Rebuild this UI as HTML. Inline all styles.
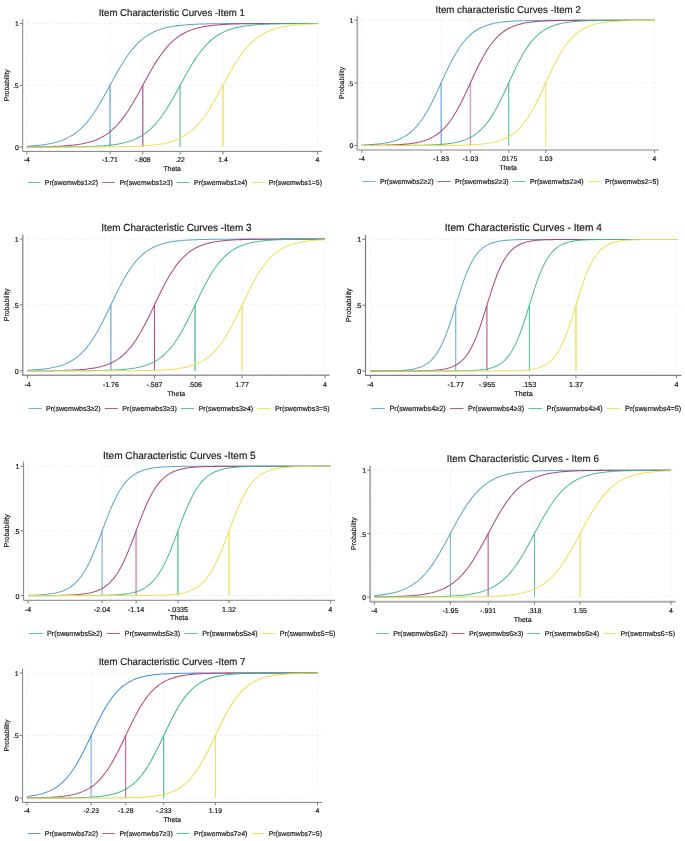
<!DOCTYPE html>
<html><head><meta charset="utf-8"><title>Item Characteristic Curves</title>
<style>
html,body{margin:0;padding:0;background:#fff}
svg{display:block;filter:blur(.3px)}
text{font-family:"Liberation Sans",Arial,sans-serif;fill:#161616;stroke:#161616;stroke-width:.18;text-rendering:geometricPrecision}
.tt{text-anchor:middle;fill:#1c1c1c}

.gr{stroke:#f0f0f0;stroke-width:.8;stroke-dasharray:4 1.8;fill:none}
.ax{stroke:#787878;stroke-width:.95;fill:none}
.cv{fill:none;stroke-width:1.05;stroke-linejoin:round;stroke-opacity:.92}
</style></head><body>
<svg width="685" height="841" viewBox="0 0 685 841">
<rect width="685" height="841" fill="#fff"/>
<g class="p1">
<line class="gr" x1="26.9" x2="321.9" y1="147" y2="147"/>
<line class="gr" x1="26.9" x2="321.9" y1="85.25" y2="85.25"/>
<line class="gr" x1="26.9" x2="321.9" y1="23.5" y2="23.5"/>
<line class="gr" x1="26.9" x2="26.9" y1="20" y2="147"/>
<line class="gr" x1="110.06" x2="110.06" y1="20" y2="147"/>
<line class="gr" x1="142.81" x2="142.81" y1="20" y2="147"/>
<line class="gr" x1="180.14" x2="180.14" y1="20" y2="147"/>
<line class="gr" x1="222.99" x2="222.99" y1="20" y2="147"/>
<line class="gr" x1="317.4" x2="317.4" y1="20" y2="147"/>
<path class="ax" d="M22.7 19V151.4H321.9"/>
<path class="ax" d="M22.7 147h-3M22.7 85.25h-3M22.7 23.5h-3M26.9 151.4v3M110.06 151.4v3M142.81 151.4v3M180.14 151.4v3M222.99 151.4v3M317.4 151.4v3"/>
<line x1="110.06" x2="110.06" y1="85.25" y2="147" stroke="#86bfdf" stroke-width="1.7"/>
<line x1="142.81" x2="142.81" y1="85.25" y2="147" stroke="#9c4e7c" stroke-width="1.1"/>
<line x1="180.14" x2="180.14" y1="85.25" y2="147" stroke="#8fd3c0" stroke-width="1.7"/>
<line x1="222.99" x2="222.99" y1="85.25" y2="147" stroke="#f2e77c" stroke-width="1.7"/>
<polyline class="cv" points="26.9,146.15 28.72,146.05 30.53,145.94 32.35,145.82 34.16,145.69 35.98,145.54 37.79,145.38 39.61,145.19 41.42,144.99 43.24,144.76 45.06,144.51 46.87,144.23 48.69,143.92 50.5,143.58 52.32,143.2 54.13,142.78 55.95,142.32 57.77,141.8 59.58,141.23 61.4,140.61 63.21,139.92 65.03,139.16 66.84,138.32 68.66,137.4 70.48,136.4 72.29,135.3 74.11,134.1 75.92,132.79 77.74,131.36 79.55,129.82 81.37,128.15 83.18,126.35 85,124.42 86.82,122.35 88.63,120.14 90.45,117.79 92.26,115.3 94.08,112.68 95.89,109.92 97.71,107.05 99.53,104.06 101.34,100.98 103.16,97.8 104.97,94.56 106.79,91.26 108.6,87.93 110.42,84.58 112.23,81.24 114.05,77.91 115.87,74.64 117.68,71.42 119.5,68.28 121.31,65.23 123.13,62.29 124.94,59.46 126.76,56.76 128.57,54.19 130.39,51.75 132.21,49.46 134.02,47.31 135.84,45.29 137.65,43.41 139.47,41.66 141.28,40.05 143.1,38.55 144.92,37.18 146.73,35.91 148.55,34.75 150.36,33.69 152.18,32.72 153.99,31.84 155.81,31.03 157.62,30.3 159.44,29.64 161.26,29.03 163.07,28.49 164.89,27.99 166.7,27.55 168.52,27.14 170.33,26.78 172.15,26.45 173.97,26.15 175.78,25.88 177.6,25.64 179.41,25.43 181.23,25.23 183.04,25.06 184.86,24.9 186.68,24.76 188.49,24.63 190.31,24.51 192.12,24.41 193.94,24.32 195.75,24.23 197.57,24.16 199.38,24.09 201.2,24.03 203.02,23.98 204.83,23.93 206.65,23.88 208.46,23.84 210.28,23.81 212.09,23.78 213.91,23.75 215.73,23.72 217.54,23.7 219.36,23.68 221.17,23.66 222.99,23.64 224.8,23.63 226.62,23.62 228.43,23.6 230.25,23.59 232.07,23.58 233.88,23.58 235.7,23.57 237.51,23.56 239.33,23.55 241.14,23.55 242.96,23.54 244.78,23.54 246.59,23.54 248.41,23.53 250.22,23.53 252.04,23.53 253.85,23.52 255.67,23.52 257.48,23.52 259.3,23.52 261.12,23.51 262.93,23.51 264.75,23.51 266.56,23.51 268.38,23.51 270.19,23.51 272.01,23.51 273.82,23.51 275.64,23.51 277.46,23.51 279.27,23.51 281.09,23.5 282.9,23.5 284.72,23.5 286.53,23.5 288.35,23.5 290.17,23.5 291.98,23.5 293.8,23.5 295.61,23.5 297.43,23.5 299.24,23.5 301.06,23.5 302.87,23.5 304.69,23.5 306.51,23.5 308.32,23.5 310.14,23.5 311.95,23.5 313.77,23.5 315.58,23.5 317.4,23.5" stroke="#51a0ce"/>
<polyline class="cv" points="26.9,146.88 28.72,146.87 30.53,146.85 32.35,146.83 34.16,146.81 35.98,146.79 37.79,146.77 39.61,146.74 41.42,146.71 43.24,146.68 45.06,146.64 46.87,146.6 48.69,146.56 50.5,146.51 52.32,146.45 54.13,146.39 55.95,146.32 57.77,146.24 59.58,146.15 61.4,146.06 63.21,145.95 65.03,145.83 66.84,145.7 68.66,145.55 70.48,145.38 72.29,145.2 74.11,145 75.92,144.77 77.74,144.52 79.55,144.24 81.37,143.94 83.18,143.6 85,143.22 86.82,142.8 88.63,142.33 90.45,141.82 92.26,141.26 94.08,140.63 95.89,139.94 97.71,139.19 99.53,138.35 101.34,137.44 103.16,136.44 104.97,135.34 106.79,134.15 108.6,132.84 110.42,131.42 112.23,129.89 114.05,128.22 115.87,126.43 117.68,124.5 119.5,122.43 121.31,120.23 123.13,117.89 124.94,115.4 126.76,112.78 128.57,110.04 130.39,107.17 132.21,104.18 134.02,101.1 135.84,97.93 137.65,94.69 139.47,91.39 141.28,88.06 143.1,84.71 144.92,81.37 146.73,78.05 148.55,74.77 150.36,71.55 152.18,68.4 153.99,65.35 155.81,62.4 157.62,59.57 159.44,56.86 161.26,54.29 163.07,51.85 164.89,49.55 166.7,47.39 168.52,45.37 170.33,43.48 172.15,41.73 173.97,40.11 175.78,38.61 177.6,37.23 179.41,35.96 181.23,34.8 183.04,33.73 184.86,32.76 186.68,31.87 188.49,31.06 190.31,30.33 192.12,29.66 193.94,29.06 195.75,28.51 197.57,28.01 199.38,27.56 201.2,27.16 203.02,26.79 204.83,26.46 206.65,26.16 208.46,25.89 210.28,25.65 212.09,25.43 213.91,25.24 215.73,25.06 217.54,24.9 219.36,24.76 221.17,24.63 222.99,24.52 224.8,24.41 226.62,24.32 228.43,24.24 230.25,24.16 232.07,24.09 233.88,24.03 235.7,23.98 237.51,23.93 239.33,23.88 241.14,23.85 242.96,23.81 244.78,23.78 246.59,23.75 248.41,23.72 250.22,23.7 252.04,23.68 253.85,23.66 255.67,23.65 257.48,23.63 259.3,23.62 261.12,23.6 262.93,23.59 264.75,23.58 266.56,23.58 268.38,23.57 270.19,23.56 272.01,23.55 273.82,23.55 275.64,23.54 277.46,23.54 279.27,23.54 281.09,23.53 282.9,23.53 284.72,23.53 286.53,23.52 288.35,23.52 290.17,23.52 291.98,23.52 293.8,23.51 295.61,23.51 297.43,23.51 299.24,23.51 301.06,23.51 302.87,23.51 304.69,23.51 306.51,23.51 308.32,23.51 310.14,23.51 311.95,23.51 313.77,23.5 315.58,23.5 317.4,23.5" stroke="#a73c73"/>
<polyline class="cv" points="26.9,146.99 28.72,146.99 30.53,146.98 32.35,146.98 34.16,146.98 35.98,146.98 37.79,146.98 39.61,146.97 41.42,146.97 43.24,146.97 45.06,146.96 46.87,146.96 48.69,146.95 50.5,146.95 52.32,146.94 54.13,146.93 55.95,146.93 57.77,146.92 59.58,146.91 61.4,146.9 63.21,146.89 65.03,146.87 66.84,146.86 68.66,146.84 70.48,146.82 72.29,146.8 74.11,146.78 75.92,146.76 77.74,146.73 79.55,146.7 81.37,146.66 83.18,146.62 85,146.58 86.82,146.53 88.63,146.48 90.45,146.42 92.26,146.36 94.08,146.28 95.89,146.2 97.71,146.11 99.53,146.01 101.34,145.9 103.16,145.77 104.97,145.63 106.79,145.48 108.6,145.31 110.42,145.11 112.23,144.9 114.05,144.67 115.87,144.4 117.68,144.11 119.5,143.79 121.31,143.43 123.13,143.04 124.94,142.6 126.76,142.12 128.57,141.58 130.39,140.99 132.21,140.34 134.02,139.62 135.84,138.83 137.65,137.96 139.47,137.01 141.28,135.97 143.1,134.83 144.92,133.59 146.73,132.23 148.55,130.76 150.36,129.17 152.18,127.45 153.99,125.6 155.81,123.61 157.62,121.48 159.44,119.22 161.26,116.81 163.07,114.27 164.89,111.59 166.7,108.79 168.52,105.87 170.33,102.84 172.15,99.72 173.97,96.51 175.78,93.24 177.6,89.93 179.41,86.59 181.23,83.24 183.04,79.9 184.86,76.6 186.68,73.34 188.49,70.15 190.31,67.05 192.12,64.04 193.94,61.14 195.75,58.36 197.57,55.71 199.38,53.2 201.2,50.82 203.02,48.58 204.83,46.48 206.65,44.52 208.46,42.7 210.28,41 212.09,39.43 213.91,37.99 215.73,36.66 217.54,35.44 219.36,34.32 221.17,33.29 222.99,32.36 224.8,31.51 226.62,30.73 228.43,30.03 230.25,29.39 232.07,28.81 233.88,28.28 235.7,27.81 237.51,27.38 239.33,26.99 241.14,26.64 242.96,26.33 244.78,26.04 246.59,25.79 248.41,25.55 250.22,25.35 252.04,25.16 253.85,24.99 255.67,24.84 257.48,24.7 259.3,24.58 261.12,24.47 262.93,24.37 264.75,24.28 266.56,24.2 268.38,24.13 270.19,24.07 272.01,24.01 273.82,23.96 275.64,23.91 277.46,23.87 279.27,23.83 281.09,23.8 282.9,23.77 284.72,23.74 286.53,23.71 288.35,23.69 290.17,23.67 291.98,23.65 293.8,23.64 295.61,23.62 297.43,23.61 299.24,23.6 301.06,23.59 302.87,23.58 304.69,23.57 306.51,23.56 308.32,23.56 310.14,23.55 311.95,23.55 313.77,23.54 315.58,23.54 317.4,23.53" stroke="#40b590"/>
<polyline class="cv" points="26.9,147 28.72,147 30.53,147 32.35,147 34.16,147 35.98,147 37.79,147 39.61,147 41.42,147 43.24,147 45.06,147 46.87,147 48.69,147 50.5,147 52.32,147 54.13,146.99 55.95,146.99 57.77,146.99 59.58,146.99 61.4,146.99 63.21,146.99 65.03,146.99 66.84,146.99 68.66,146.99 70.48,146.99 72.29,146.98 74.11,146.98 75.92,146.98 77.74,146.98 79.55,146.98 81.37,146.97 83.18,146.97 85,146.97 86.82,146.96 88.63,146.96 90.45,146.96 92.26,146.95 94.08,146.94 95.89,146.94 97.71,146.93 99.53,146.92 101.34,146.91 103.16,146.9 104.97,146.89 106.79,146.88 108.6,146.87 110.42,146.85 112.23,146.84 114.05,146.82 115.87,146.8 117.68,146.77 119.5,146.75 121.31,146.72 123.13,146.68 124.94,146.65 126.76,146.61 128.57,146.56 130.39,146.51 132.21,146.46 134.02,146.4 135.84,146.33 137.65,146.25 139.47,146.17 141.28,146.07 143.1,145.97 144.92,145.85 146.73,145.72 148.55,145.57 150.36,145.41 152.18,145.23 153.99,145.03 155.81,144.81 157.62,144.56 159.44,144.29 161.26,143.99 163.07,143.65 164.89,143.28 166.7,142.87 168.52,142.41 170.33,141.91 172.15,141.35 173.97,140.74 175.78,140.06 177.6,139.31 179.41,138.49 181.23,137.59 183.04,136.61 184.86,135.52 186.68,134.34 188.49,133.06 190.31,131.66 192.12,130.14 193.94,128.5 195.75,126.72 197.57,124.82 199.38,122.77 201.2,120.59 203.02,118.27 204.83,115.81 206.65,113.21 208.46,110.48 210.28,107.63 212.09,104.67 213.91,101.6 215.73,98.44 217.54,95.21 219.36,91.92 221.17,88.6 222.99,85.25 224.8,81.9 226.62,78.58 228.43,75.29 230.25,72.06 232.07,68.9 233.88,65.83 235.7,62.87 237.51,60.02 239.33,57.29 241.14,54.69 242.96,52.23 244.78,49.91 246.59,47.73 248.41,45.68 250.22,43.78 252.04,42 253.85,40.36 255.67,38.84 257.48,37.44 259.3,36.16 261.12,34.98 262.93,33.89 264.75,32.91 266.56,32.01 268.38,31.19 270.19,30.44 272.01,29.76 273.82,29.15 275.64,28.59 277.46,28.09 279.27,27.63 281.09,27.22 282.9,26.85 284.72,26.51 286.53,26.21 288.35,25.94 290.17,25.69 291.98,25.47 293.8,25.27 295.61,25.09 297.43,24.93 299.24,24.78 301.06,24.65 302.87,24.53 304.69,24.43 306.51,24.33 308.32,24.25 310.14,24.17 311.95,24.1 313.77,24.04 315.58,23.99 317.4,23.94" stroke="#edde4c"/>
<text class="tt" x="171.8" y="16.04" font-size="9.97" textLength="146.2" lengthAdjust="spacingAndGlyphs">Item Characteristic Curves -Item 1</text>
<text class="sm" text-anchor="end" x="18.7" y="149.85" font-size="6.85">0</text>
<text class="sm" text-anchor="end" x="18.7" y="88.1" font-size="6.85">.5</text>
<text class="sm" text-anchor="end" x="18.7" y="26.35" font-size="6.85">1</text>
<text class="sm" text-anchor="middle" x="26.9" y="161.95" font-size="6.85">-4</text>
<text class="sm" text-anchor="middle" x="110.06" y="161.95" font-size="6.85">-1.71</text>
<text class="sm" text-anchor="middle" x="142.81" y="161.95" font-size="6.85">-.808</text>
<text class="sm" text-anchor="middle" x="180.14" y="161.95" font-size="6.85">.22</text>
<text class="sm" text-anchor="middle" x="222.99" y="161.95" font-size="6.85">1.4</text>
<text class="sm" text-anchor="middle" x="317.4" y="161.95" font-size="6.85">4</text>
<text class="sm" text-anchor="middle" x="172.15" y="170.55" font-size="6.85">Theta</text>
<text class="sm" text-anchor="middle" transform="translate(9.35 85.25) rotate(-90)" font-size="6.85">Probability</text>
<line x1="27.6" x2="40.4" y1="182.5" y2="182.5" stroke="#5fa8d2" stroke-width="1.05" stroke-opacity=".9"/>
<text class="sm" x="44.8" y="184.84" font-size="7.1" textLength="53.3" lengthAdjust="spacingAndGlyphs">Pr(swemwbs1≥2)</text>
<line x1="102.23" x2="115.03" y1="182.5" y2="182.5" stroke="#ae4c7e" stroke-width="1.05" stroke-opacity=".9"/>
<text class="sm" x="119.43" y="184.84" font-size="7.1" textLength="53.3" lengthAdjust="spacingAndGlyphs">Pr(swemwbs1≥3)</text>
<line x1="176.87" x2="189.67" y1="182.5" y2="182.5" stroke="#4fbb99" stroke-width="1.05" stroke-opacity=".9"/>
<text class="sm" x="194.07" y="184.84" font-size="7.1" textLength="53.3" lengthAdjust="spacingAndGlyphs">Pr(swemwbs1≥4)</text>
<line x1="251.5" x2="264.3" y1="182.5" y2="182.5" stroke="#eee15a" stroke-width="1.05" stroke-opacity=".9"/>
<text class="sm" x="268.7" y="184.84" font-size="7.1" textLength="53.3" lengthAdjust="spacingAndGlyphs">Pr(swemwbs1=5)</text>
</g>
<g class="p2">
<line class="gr" x1="361.8" x2="658.93" y1="145.5" y2="145.5"/>
<line class="gr" x1="361.8" x2="658.93" y1="82.9" y2="82.9"/>
<line class="gr" x1="361.8" x2="658.93" y1="20.3" y2="20.3"/>
<line class="gr" x1="361.8" x2="361.8" y1="16.77" y2="145.5"/>
<line class="gr" x1="441.17" x2="441.17" y1="16.77" y2="145.5"/>
<line class="gr" x1="470.43" x2="470.43" y1="16.77" y2="145.5"/>
<line class="gr" x1="508.74" x2="508.74" y1="16.77" y2="145.5"/>
<line class="gr" x1="545.77" x2="545.77" y1="16.77" y2="145.5"/>
<line class="gr" x1="654.4" x2="654.4" y1="16.77" y2="145.5"/>
<path class="ax" style="stroke:#adadad;stroke-width:1.7" d="M357.3 15.77V150H658.93"/>
<path class="ax" d="M357.3 145.5h-3.02M357.3 82.9h-3.02M357.3 20.3h-3.02M361.8 150v3.02M441.17 150v3.02M470.43 150v3.02M508.74 150v3.02M545.77 150v3.02M654.4 150v3.02"/>
<line x1="441.17" x2="441.17" y1="82.9" y2="145.5" stroke="#8ab8e0" stroke-width="1.5"/>
<line x1="470.43" x2="470.43" y1="82.9" y2="145.5" stroke="#cfa3c3" stroke-width="1.5"/>
<line x1="508.74" x2="508.74" y1="82.9" y2="145.5" stroke="#4fba98" stroke-width="1"/>
<line x1="545.77" x2="545.77" y1="82.9" y2="145.5" stroke="#f2e25e" stroke-width="1"/>
<polyline class="cv" points="361.8,145.01 363.63,144.94 365.46,144.86 367.29,144.78 369.12,144.68 370.94,144.57 372.77,144.45 374.6,144.3 376.43,144.14 378.26,143.96 380.09,143.75 381.92,143.52 383.75,143.26 385.57,142.96 387.4,142.62 389.23,142.24 391.06,141.81 392.89,141.32 394.72,140.77 396.55,140.16 398.38,139.47 400.2,138.69 402.03,137.82 403.86,136.85 405.69,135.77 407.52,134.56 409.35,133.22 411.18,131.73 413,130.09 414.83,128.28 416.66,126.3 418.49,124.13 420.32,121.78 422.15,119.23 423.98,116.49 425.81,113.55 427.63,110.42 429.46,107.11 431.29,103.64 433.12,100.01 434.95,96.26 436.78,92.4 438.61,88.47 440.44,84.5 442.26,80.51 444.09,76.54 445.92,72.62 447.75,68.78 449.58,65.05 451.41,61.46 453.24,58.01 455.07,54.74 456.89,51.65 458.72,48.75 460.55,46.04 462.38,43.53 464.21,41.22 466.04,39.09 467.87,37.14 469.7,35.37 471.52,33.76 473.35,32.3 475.18,30.99 477.01,29.81 478.84,28.75 480.67,27.79 482.5,26.95 484.33,26.19 486.15,25.51 487.98,24.91 489.81,24.38 491.64,23.9 493.47,23.48 495.3,23.11 497.13,22.78 498.96,22.49 500.78,22.23 502.61,22 504.44,21.8 506.27,21.62 508.1,21.47 509.93,21.33 511.76,21.21 513.59,21.1 515.41,21 517.24,20.92 519.07,20.85 520.9,20.78 522.73,20.72 524.56,20.67 526.39,20.63 528.22,20.59 530.04,20.55 531.87,20.52 533.7,20.5 535.53,20.47 537.36,20.45 539.19,20.43 541.02,20.42 542.85,20.4 544.67,20.39 546.5,20.38 548.33,20.37 550.16,20.36 551.99,20.36 553.82,20.35 555.65,20.34 557.48,20.34 559.31,20.33 561.13,20.33 562.96,20.33 564.79,20.32 566.62,20.32 568.45,20.32 570.28,20.32 572.11,20.31 573.93,20.31 575.76,20.31 577.59,20.31 579.42,20.31 581.25,20.31 583.08,20.31 584.91,20.31 586.74,20.3 588.57,20.3 590.39,20.3 592.22,20.3 594.05,20.3 595.88,20.3 597.71,20.3 599.54,20.3 601.37,20.3 603.19,20.3 605.02,20.3 606.85,20.3 608.68,20.3 610.51,20.3 612.34,20.3 614.17,20.3 616,20.3 617.83,20.3 619.65,20.3 621.48,20.3 623.31,20.3 625.14,20.3 626.97,20.3 628.8,20.3 630.63,20.3 632.45,20.3 634.28,20.3 636.11,20.3 637.94,20.3 639.77,20.3 641.6,20.3 643.43,20.3 645.26,20.3 647.09,20.3 648.91,20.3 650.74,20.3 652.57,20.3 654.4,20.3" stroke="#51a0ce"/>
<polyline class="cv" points="361.8,145.44 363.63,145.43 365.46,145.42 367.29,145.41 369.12,145.39 370.94,145.38 372.77,145.36 374.6,145.34 376.43,145.32 378.26,145.3 380.09,145.27 381.92,145.24 383.75,145.2 385.57,145.16 387.4,145.12 389.23,145.07 391.06,145.01 392.89,144.94 394.72,144.86 396.55,144.78 398.38,144.68 400.2,144.57 402.03,144.45 403.86,144.3 405.69,144.14 407.52,143.96 409.35,143.75 411.18,143.52 413,143.26 414.83,142.96 416.66,142.62 418.49,142.24 420.32,141.81 422.15,141.32 423.98,140.77 425.81,140.16 427.63,139.47 429.46,138.69 431.29,137.82 433.12,136.85 434.95,135.77 436.78,134.56 438.61,133.22 440.44,131.73 442.26,130.09 444.09,128.28 445.92,126.3 447.75,124.13 449.58,121.78 451.41,119.23 453.24,116.49 455.07,113.55 456.89,110.42 458.72,107.11 460.55,103.64 462.38,100.01 464.21,96.26 466.04,92.4 467.87,88.47 469.7,84.5 471.52,80.51 473.35,76.54 475.18,72.62 477.01,68.78 478.84,65.05 480.67,61.46 482.5,58.01 484.33,54.74 486.15,51.65 487.98,48.75 489.81,46.04 491.64,43.53 493.47,41.22 495.3,39.09 497.13,37.14 498.96,35.37 500.78,33.76 502.61,32.3 504.44,30.99 506.27,29.81 508.1,28.75 509.93,27.79 511.76,26.95 513.59,26.19 515.41,25.51 517.24,24.91 519.07,24.38 520.9,23.9 522.73,23.48 524.56,23.11 526.39,22.78 528.22,22.49 530.04,22.23 531.87,22 533.7,21.8 535.53,21.62 537.36,21.47 539.19,21.33 541.02,21.21 542.85,21.1 544.67,21 546.5,20.92 548.33,20.85 550.16,20.78 551.99,20.72 553.82,20.67 555.65,20.63 557.48,20.59 559.31,20.55 561.13,20.52 562.96,20.5 564.79,20.47 566.62,20.45 568.45,20.43 570.28,20.42 572.11,20.4 573.93,20.39 575.76,20.38 577.59,20.37 579.42,20.36 581.25,20.36 583.08,20.35 584.91,20.34 586.74,20.34 588.57,20.33 590.39,20.33 592.22,20.33 594.05,20.32 595.88,20.32 597.71,20.32 599.54,20.32 601.37,20.31 603.19,20.31 605.02,20.31 606.85,20.31 608.68,20.31 610.51,20.31 612.34,20.31 614.17,20.31 616,20.3 617.83,20.3 619.65,20.3 621.48,20.3 623.31,20.3 625.14,20.3 626.97,20.3 628.8,20.3 630.63,20.3 632.45,20.3 634.28,20.3 636.11,20.3 637.94,20.3 639.77,20.3 641.6,20.3 643.43,20.3 645.26,20.3 647.09,20.3 648.91,20.3 650.74,20.3 652.57,20.3 654.4,20.3" stroke="#a73c73"/>
<polyline class="cv" points="361.8,145.5 363.63,145.49 365.46,145.49 367.29,145.49 369.12,145.49 370.94,145.49 372.77,145.49 374.6,145.49 376.43,145.49 378.26,145.49 380.09,145.48 381.92,145.48 383.75,145.48 385.57,145.48 387.4,145.47 389.23,145.47 391.06,145.47 392.89,145.46 394.72,145.46 396.55,145.45 398.38,145.44 400.2,145.44 402.03,145.43 403.86,145.42 405.69,145.41 407.52,145.39 409.35,145.38 411.18,145.36 413,145.34 414.83,145.32 416.66,145.3 418.49,145.27 420.32,145.24 422.15,145.2 423.98,145.16 425.81,145.12 427.63,145.06 429.46,145 431.29,144.94 433.12,144.86 434.95,144.77 436.78,144.68 438.61,144.56 440.44,144.44 442.26,144.3 444.09,144.13 445.92,143.95 447.75,143.74 449.58,143.51 451.41,143.24 453.24,142.94 455.07,142.6 456.89,142.22 458.72,141.78 460.55,141.3 462.38,140.75 464.21,140.13 466.04,139.43 467.87,138.65 469.7,137.78 471.52,136.8 473.35,135.71 475.18,134.5 477.01,133.15 478.84,131.65 480.67,130 482.5,128.19 484.33,126.2 486.15,124.02 487.98,121.66 489.81,119.1 491.64,116.34 493.47,113.4 495.3,110.26 497.13,106.94 498.96,103.46 500.78,99.83 502.61,96.07 504.44,92.21 506.27,88.27 508.1,84.3 509.93,80.31 511.76,76.34 513.59,72.42 515.41,68.59 517.24,64.87 519.07,61.28 520.9,57.84 522.73,54.58 524.56,51.5 526.39,48.61 528.22,45.91 530.04,43.41 531.87,41.11 533.7,38.99 535.53,37.05 537.36,35.29 539.19,33.68 541.02,32.23 542.85,30.93 544.67,29.75 546.5,28.69 548.33,27.75 550.16,26.91 551.99,26.15 553.82,25.48 555.65,24.88 557.48,24.35 559.31,23.88 561.13,23.46 562.96,23.09 564.79,22.76 566.62,22.47 568.45,22.22 570.28,21.99 572.11,21.79 573.93,21.62 575.76,21.46 577.59,21.32 579.42,21.2 581.25,21.09 583.08,21 584.91,20.92 586.74,20.84 588.57,20.78 590.39,20.72 592.22,20.67 594.05,20.63 595.88,20.59 597.71,20.55 599.54,20.52 601.37,20.5 603.19,20.47 605.02,20.45 606.85,20.43 608.68,20.42 610.51,20.4 612.34,20.39 614.17,20.38 616,20.37 617.83,20.36 619.65,20.35 621.48,20.35 623.31,20.34 625.14,20.34 626.97,20.33 628.8,20.33 630.63,20.33 632.45,20.32 634.28,20.32 636.11,20.32 637.94,20.32 639.77,20.31 641.6,20.31 643.43,20.31 645.26,20.31 647.09,20.31 648.91,20.31 650.74,20.31 652.57,20.31 654.4,20.3" stroke="#40b590"/>
<polyline class="cv" points="361.8,145.5 363.63,145.5 365.46,145.5 367.29,145.5 369.12,145.5 370.94,145.5 372.77,145.5 374.6,145.5 376.43,145.5 378.26,145.5 380.09,145.5 381.92,145.5 383.75,145.5 385.57,145.5 387.4,145.5 389.23,145.5 391.06,145.5 392.89,145.5 394.72,145.5 396.55,145.5 398.38,145.5 400.2,145.5 402.03,145.49 403.86,145.49 405.69,145.49 407.52,145.49 409.35,145.49 411.18,145.49 413,145.49 414.83,145.49 416.66,145.48 418.49,145.48 420.32,145.48 422.15,145.48 423.98,145.47 425.81,145.47 427.63,145.47 429.46,145.46 431.29,145.46 433.12,145.45 434.95,145.44 436.78,145.44 438.61,145.43 440.44,145.42 442.26,145.41 444.09,145.4 445.92,145.38 447.75,145.37 449.58,145.35 451.41,145.33 453.24,145.3 455.07,145.28 456.89,145.25 458.72,145.21 460.55,145.17 462.38,145.13 464.21,145.08 466.04,145.02 467.87,144.95 469.7,144.88 471.52,144.8 473.35,144.7 475.18,144.59 477.01,144.47 478.84,144.33 480.67,144.18 482.5,144 484.33,143.8 486.15,143.57 487.98,143.31 489.81,143.02 491.64,142.69 493.47,142.32 495.3,141.9 497.13,141.42 498.96,140.89 500.78,140.29 502.61,139.61 504.44,138.85 506.27,138.01 508.1,137.05 509.93,135.99 511.76,134.81 513.59,133.5 515.41,132.04 517.24,130.43 519.07,128.66 520.9,126.71 522.73,124.58 524.56,122.27 526.39,119.76 528.22,117.05 530.04,114.15 531.87,111.06 533.7,107.79 535.53,104.34 537.36,100.75 539.19,97.02 541.02,93.18 542.85,89.26 544.67,85.29 546.5,81.3 548.33,77.33 550.16,73.4 551.99,69.54 553.82,65.79 555.65,62.16 557.48,58.69 559.31,55.38 561.13,52.25 562.96,49.31 564.79,46.57 566.62,44.02 568.45,41.67 570.28,39.5 572.11,37.52 573.93,35.71 575.76,34.07 577.59,32.58 579.42,31.24 581.25,30.03 583.08,28.95 584.91,27.98 586.74,27.11 588.57,26.33 590.39,25.64 592.22,25.03 594.05,24.48 595.88,23.99 597.71,23.56 599.54,23.18 601.37,22.84 603.19,22.54 605.02,22.28 606.85,22.05 608.68,21.84 610.51,21.66 612.34,21.5 614.17,21.35 616,21.23 617.83,21.12 619.65,21.02 621.48,20.94 623.31,20.86 625.14,20.79 626.97,20.73 628.8,20.68 630.63,20.64 632.45,20.6 634.28,20.56 636.11,20.53 637.94,20.5 639.77,20.48 641.6,20.46 643.43,20.44 645.26,20.42 647.09,20.41 648.91,20.39 650.74,20.38 652.57,20.37 654.4,20.36" stroke="#edde4c"/>
<text class="tt" x="508.15" y="12.52" font-size="9.91" textLength="145.3" lengthAdjust="spacingAndGlyphs">Item characteristic Curves -Item 2</text>
<text class="sm" text-anchor="end" x="353.27" y="148.37" font-size="6.9">0</text>
<text class="sm" text-anchor="end" x="353.27" y="85.77" font-size="6.9">.5</text>
<text class="sm" text-anchor="end" x="353.27" y="23.17" font-size="6.9">1</text>
<text class="sm" text-anchor="middle" x="361.8" y="160.77" font-size="6.9">-4</text>
<text class="sm" text-anchor="middle" x="441.17" y="160.77" font-size="6.9">-1.83</text>
<text class="sm" text-anchor="middle" x="470.43" y="160.77" font-size="6.9">-1.03</text>
<text class="sm" text-anchor="middle" x="508.74" y="160.77" font-size="6.9">.0175</text>
<text class="sm" text-anchor="middle" x="545.77" y="160.77" font-size="6.9">1.03</text>
<text class="sm" text-anchor="middle" x="654.4" y="160.77" font-size="6.9">4</text>
<text class="sm" text-anchor="middle" x="508.1" y="169.67" font-size="6.9">Theta</text>
<text class="sm" text-anchor="middle" transform="translate(343.77 82.9) rotate(-90)" font-size="6.9">Probability</text>
<line x1="362.6" x2="375.49" y1="181.5" y2="181.5" stroke="#5fa8d2" stroke-width="1.06" stroke-opacity=".9"/>
<text class="sm" x="379.92" y="184.16" font-size="7.15" textLength="53.69" lengthAdjust="spacingAndGlyphs">Pr(swemwbs2≥2)</text>
<line x1="437.63" x2="450.52" y1="181.5" y2="181.5" stroke="#ae4c7e" stroke-width="1.06" stroke-opacity=".9"/>
<text class="sm" x="454.95" y="184.16" font-size="7.15" textLength="53.69" lengthAdjust="spacingAndGlyphs">Pr(swemwbs2≥3)</text>
<line x1="512.66" x2="525.55" y1="181.5" y2="181.5" stroke="#4fbb99" stroke-width="1.06" stroke-opacity=".9"/>
<text class="sm" x="529.98" y="184.16" font-size="7.15" textLength="53.69" lengthAdjust="spacingAndGlyphs">Pr(swemwbs2≥4)</text>
<line x1="587.69" x2="600.58" y1="181.5" y2="181.5" stroke="#eee15a" stroke-width="1.06" stroke-opacity=".9"/>
<text class="sm" x="605.01" y="184.16" font-size="7.15" textLength="53.69" lengthAdjust="spacingAndGlyphs">Pr(swemwbs2=5)</text>
</g>
<g class="p3">
<line class="gr" x1="27.6" x2="329.61" y1="370.8" y2="370.8"/>
<line class="gr" x1="27.6" x2="329.61" y1="304.95" y2="304.95"/>
<line class="gr" x1="27.6" x2="329.61" y1="239.1" y2="239.1"/>
<line class="gr" x1="27.6" x2="27.6" y1="235.49" y2="370.8"/>
<line class="gr" x1="110.87" x2="110.87" y1="235.49" y2="370.8"/>
<line class="gr" x1="154.48" x2="154.48" y1="235.49" y2="370.8"/>
<line class="gr" x1="195.11" x2="195.11" y1="235.49" y2="370.8"/>
<line class="gr" x1="242.1" x2="242.1" y1="235.49" y2="370.8"/>
<line class="gr" x1="325" x2="325" y1="235.49" y2="370.8"/>
<path class="ax" style="stroke:#989898;stroke-width:1.6" d="M22.7 234.49V375.3H329.61"/>
<path class="ax" d="M22.7 370.8h-3.07M22.7 304.95h-3.07M22.7 239.1h-3.07M27.6 375.3v3.07M110.87 375.3v3.07M154.48 375.3v3.07M195.11 375.3v3.07M242.1 375.3v3.07M325 375.3v3.07"/>
<line x1="110.87" x2="110.87" y1="304.95" y2="370.8" stroke="#7ab0d0" stroke-width="1.3"/>
<line x1="154.48" x2="154.48" y1="304.95" y2="370.8" stroke="#b45a84" stroke-width="1.2"/>
<line x1="195.11" x2="195.11" y1="304.95" y2="370.8" stroke="#68c4a6" stroke-width="1.5"/>
<line x1="242.1" x2="242.1" y1="304.95" y2="370.8" stroke="#f1e56c" stroke-width="1.4"/>
<polyline class="cv" points="27.6,370.15 29.46,370.07 31.32,369.98 33.18,369.88 35.04,369.76 36.89,369.63 38.75,369.49 40.61,369.32 42.47,369.14 44.33,368.93 46.19,368.7 48.05,368.44 49.91,368.15 51.76,367.83 53.62,367.46 55.48,367.06 57.34,366.6 59.2,366.09 61.06,365.52 62.92,364.89 64.78,364.18 66.63,363.39 68.49,362.52 70.35,361.55 72.21,360.48 74.07,359.29 75.93,357.99 77.79,356.55 79.64,354.97 81.5,353.25 83.36,351.37 85.22,349.32 87.08,347.1 88.94,344.71 90.8,342.14 92.66,339.4 94.51,336.48 96.37,333.39 98.23,330.13 100.09,326.73 101.95,323.19 103.81,319.53 105.67,315.78 107.53,311.95 109.38,308.07 111.24,304.17 113.1,300.28 114.96,296.41 116.82,292.61 118.68,288.89 120.54,285.28 122.4,281.79 124.25,278.45 126.11,275.26 127.97,272.23 129.83,269.38 131.69,266.71 133.55,264.21 135.41,261.89 137.27,259.74 139.12,257.76 140.98,255.94 142.84,254.28 144.7,252.76 146.56,251.37 148.42,250.12 150.28,248.98 152.14,247.95 153.99,247.02 155.85,246.18 157.71,245.43 159.57,244.75 161.43,244.14 163.29,243.6 165.15,243.11 167.01,242.68 168.86,242.29 170.72,241.94 172.58,241.63 174.44,241.35 176.3,241.1 178.16,240.88 180.02,240.68 181.88,240.51 183.73,240.35 185.59,240.21 187.45,240.09 189.31,239.98 191.17,239.88 193.03,239.8 194.89,239.72 196.75,239.65 198.6,239.59 200.46,239.53 202.32,239.49 204.18,239.44 206.04,239.4 207.9,239.37 209.76,239.34 211.62,239.31 213.47,239.29 215.33,239.27 217.19,239.25 219.05,239.23 220.91,239.22 222.77,239.2 224.63,239.19 226.49,239.18 228.34,239.17 230.2,239.17 232.06,239.16 233.92,239.15 235.78,239.15 237.64,239.14 239.5,239.14 241.36,239.13 243.21,239.13 245.07,239.13 246.93,239.12 248.79,239.12 250.65,239.12 252.51,239.12 254.37,239.11 256.23,239.11 258.08,239.11 259.94,239.11 261.8,239.11 263.66,239.11 265.52,239.11 267.38,239.11 269.24,239.11 271.1,239.1 272.95,239.1 274.81,239.1 276.67,239.1 278.53,239.1 280.39,239.1 282.25,239.1 284.11,239.1 285.97,239.1 287.82,239.1 289.68,239.1 291.54,239.1 293.4,239.1 295.26,239.1 297.12,239.1 298.98,239.1 300.84,239.1 302.69,239.1 304.55,239.1 306.41,239.1 308.27,239.1 310.13,239.1 311.99,239.1 313.85,239.1 315.71,239.1 317.56,239.1 319.42,239.1 321.28,239.1 323.14,239.1 325,239.1" stroke="#51a0ce"/>
<polyline class="cv" points="27.6,370.76 29.46,370.75 31.32,370.75 33.18,370.74 35.04,370.74 36.89,370.73 38.75,370.72 40.61,370.71 42.47,370.7 44.33,370.68 46.19,370.67 48.05,370.65 49.91,370.63 51.76,370.61 53.62,370.59 55.48,370.56 57.34,370.53 59.2,370.5 61.06,370.46 62.92,370.42 64.78,370.37 66.63,370.31 68.49,370.25 70.35,370.19 72.21,370.11 74.07,370.02 75.93,369.93 77.79,369.82 79.64,369.69 81.5,369.56 83.36,369.4 85.22,369.23 87.08,369.03 88.94,368.81 90.8,368.57 92.66,368.29 94.51,367.98 96.37,367.64 98.23,367.25 100.09,366.82 101.95,366.33 103.81,365.79 105.67,365.19 107.53,364.51 109.38,363.77 111.24,362.93 113.1,362.01 114.96,360.99 116.82,359.85 118.68,358.6 120.54,357.23 122.4,355.72 124.25,354.06 126.11,352.25 127.97,350.28 129.83,348.14 131.69,345.83 133.55,343.35 135.41,340.68 137.27,337.84 139.12,334.83 140.98,331.65 142.84,328.31 144.7,324.83 146.56,321.23 148.42,317.51 150.28,313.72 152.14,309.86 153.99,305.96 155.85,302.06 157.71,298.19 159.57,294.35 161.43,290.59 163.29,286.93 165.15,283.38 167.01,279.97 168.86,276.7 170.72,273.6 172.58,270.67 174.44,267.92 176.3,265.34 178.16,262.94 180.02,260.71 181.88,258.65 183.73,256.76 185.59,255.03 187.45,253.44 189.31,251.99 191.17,250.68 193.03,249.49 194.89,248.41 196.75,247.43 198.6,246.56 200.46,245.77 202.32,245.05 204.18,244.42 206.04,243.84 207.9,243.33 209.76,242.87 211.62,242.46 213.47,242.09 215.33,241.77 217.19,241.47 219.05,241.21 220.91,240.98 222.77,240.77 224.63,240.59 226.49,240.42 228.34,240.28 230.2,240.15 232.06,240.03 233.92,239.93 235.78,239.83 237.64,239.75 239.5,239.68 241.36,239.62 243.21,239.56 245.07,239.51 246.93,239.46 248.79,239.42 250.65,239.39 252.51,239.35 254.37,239.33 256.23,239.3 258.08,239.28 259.94,239.26 261.8,239.24 263.66,239.22 265.52,239.21 267.38,239.2 269.24,239.19 271.1,239.18 272.95,239.17 274.81,239.16 276.67,239.15 278.53,239.15 280.39,239.14 282.25,239.14 284.11,239.13 285.97,239.13 287.82,239.13 289.68,239.12 291.54,239.12 293.4,239.12 295.26,239.12 297.12,239.11 298.98,239.11 300.84,239.11 302.69,239.11 304.55,239.11 306.41,239.11 308.27,239.11 310.13,239.11 311.99,239.11 313.85,239.11 315.71,239.1 317.56,239.1 319.42,239.1 321.28,239.1 323.14,239.1 325,239.1" stroke="#a73c73"/>
<polyline class="cv" points="27.6,370.8 29.46,370.8 31.32,370.8 33.18,370.8 35.04,370.8 36.89,370.79 38.75,370.79 40.61,370.79 42.47,370.79 44.33,370.79 46.19,370.79 48.05,370.79 49.91,370.79 51.76,370.79 53.62,370.78 55.48,370.78 57.34,370.78 59.2,370.78 61.06,370.77 62.92,370.77 64.78,370.77 66.63,370.76 68.49,370.76 70.35,370.75 72.21,370.75 74.07,370.74 75.93,370.73 77.79,370.73 79.64,370.72 81.5,370.71 83.36,370.69 85.22,370.68 87.08,370.67 88.94,370.65 90.8,370.63 92.66,370.61 94.51,370.58 96.37,370.56 98.23,370.53 100.09,370.49 101.95,370.45 103.81,370.41 105.67,370.36 107.53,370.31 109.38,370.25 111.24,370.18 113.1,370.1 114.96,370.01 116.82,369.91 118.68,369.8 120.54,369.68 122.4,369.53 124.25,369.38 126.11,369.2 127.97,369 129.83,368.78 131.69,368.53 133.55,368.25 135.41,367.94 137.27,367.58 139.12,367.19 140.98,366.75 142.84,366.26 144.7,365.71 146.56,365.1 148.42,364.41 150.28,363.65 152.14,362.81 153.99,361.87 155.85,360.83 157.71,359.69 159.57,358.42 161.43,357.03 163.29,355.49 165.15,353.82 167.01,351.99 168.86,349.99 170.72,347.83 172.58,345.5 174.44,342.99 176.3,340.3 178.16,337.43 180.02,334.39 181.88,331.19 183.73,327.83 185.59,324.34 187.45,320.71 189.31,316.99 191.17,313.18 193.03,309.31 194.89,305.42 196.75,301.52 198.6,297.65 200.46,293.82 202.32,290.07 204.18,286.42 206.04,282.89 207.9,279.5 209.76,276.26 211.62,273.18 213.47,270.28 215.33,267.54 217.19,264.99 219.05,262.61 220.91,260.41 222.77,258.38 224.63,256.51 226.49,254.8 228.34,253.23 230.2,251.8 232.06,250.51 233.92,249.33 235.78,248.27 237.64,247.31 239.5,246.44 241.36,245.66 243.21,244.96 245.07,244.33 246.93,243.77 248.79,243.26 250.65,242.81 252.51,242.41 254.37,242.05 256.23,241.72 258.08,241.43 259.94,241.18 261.8,240.95 263.66,240.74 265.52,240.56 267.38,240.4 269.24,240.26 271.1,240.13 272.95,240.01 274.81,239.91 276.67,239.82 278.53,239.74 280.39,239.67 282.25,239.61 284.11,239.55 285.97,239.5 287.82,239.46 289.68,239.42 291.54,239.38 293.4,239.35 295.26,239.32 297.12,239.3 298.98,239.28 300.84,239.26 302.69,239.24 304.55,239.22 306.41,239.21 308.27,239.2 310.13,239.19 311.99,239.18 313.85,239.17 315.71,239.16 317.56,239.15 319.42,239.15 321.28,239.14 323.14,239.14 325,239.13" stroke="#40b590"/>
<polyline class="cv" points="27.6,370.8 29.46,370.8 31.32,370.8 33.18,370.8 35.04,370.8 36.89,370.8 38.75,370.8 40.61,370.8 42.47,370.8 44.33,370.8 46.19,370.8 48.05,370.8 49.91,370.8 51.76,370.8 53.62,370.8 55.48,370.8 57.34,370.8 59.2,370.8 61.06,370.8 62.92,370.8 64.78,370.8 66.63,370.8 68.49,370.8 70.35,370.8 72.21,370.8 74.07,370.8 75.93,370.8 77.79,370.8 79.64,370.8 81.5,370.8 83.36,370.79 85.22,370.79 87.08,370.79 88.94,370.79 90.8,370.79 92.66,370.79 94.51,370.79 96.37,370.79 98.23,370.79 100.09,370.78 101.95,370.78 103.81,370.78 105.67,370.78 107.53,370.78 109.38,370.77 111.24,370.77 113.1,370.76 114.96,370.76 116.82,370.76 118.68,370.75 120.54,370.74 122.4,370.74 124.25,370.73 126.11,370.72 127.97,370.71 129.83,370.7 131.69,370.68 133.55,370.67 135.41,370.65 137.27,370.64 139.12,370.61 140.98,370.59 142.84,370.57 144.7,370.54 146.56,370.5 148.42,370.47 150.28,370.42 152.14,370.38 153.99,370.32 155.85,370.26 157.71,370.2 159.57,370.12 161.43,370.04 163.29,369.94 165.15,369.83 167.01,369.71 168.86,369.58 170.72,369.42 172.58,369.25 174.44,369.06 176.3,368.84 178.16,368.6 180.02,368.33 181.88,368.03 183.73,367.69 185.59,367.31 187.45,366.88 189.31,366.4 191.17,365.87 193.03,365.28 194.89,364.61 196.75,363.88 198.6,363.06 200.46,362.14 202.32,361.14 204.18,360.02 206.04,358.79 207.9,357.43 209.76,355.94 211.62,354.3 213.47,352.51 215.33,350.57 217.19,348.45 219.05,346.17 220.91,343.71 222.77,341.07 224.63,338.25 226.49,335.26 228.34,332.1 230.2,328.79 232.06,325.33 233.92,321.74 235.78,318.04 237.64,314.25 239.5,310.4 241.36,306.51 243.21,302.61 245.07,298.73 246.93,294.89 248.79,291.11 250.65,287.43 252.51,283.87 254.37,280.44 256.23,277.15 258.08,274.03 259.94,271.07 261.8,268.29 263.66,265.69 265.52,263.26 267.38,261.01 269.24,258.93 271.1,257.02 272.95,255.26 274.81,253.65 276.67,252.19 278.53,250.86 280.39,249.65 282.25,248.55 284.11,247.57 285.97,246.67 287.82,245.87 289.68,245.15 291.54,244.5 293.4,243.92 295.26,243.4 297.12,242.93 298.98,242.51 300.84,242.14 302.69,241.81 304.55,241.51 306.41,241.25 308.27,241.01 310.13,240.8 311.99,240.61 313.85,240.44 315.71,240.3 317.56,240.16 319.42,240.05 321.28,239.94 323.14,239.85 325,239.76" stroke="#edde4c"/>
<text class="tt" x="176.45" y="230.64" font-size="10.25" textLength="150.3" lengthAdjust="spacingAndGlyphs">Item Characteristic Curves -Item 3</text>
<text class="sm" text-anchor="end" x="18.6" y="373.71" font-size="7.01">0</text>
<text class="sm" text-anchor="end" x="18.6" y="307.86" font-size="7.01">.5</text>
<text class="sm" text-anchor="end" x="18.6" y="242.01" font-size="7.01">1</text>
<text class="sm" text-anchor="middle" x="27.6" y="386.51" font-size="7.01">-4</text>
<text class="sm" text-anchor="middle" x="110.87" y="386.51" font-size="7.01">-1.76</text>
<text class="sm" text-anchor="middle" x="154.48" y="386.51" font-size="7.01">-.587</text>
<text class="sm" text-anchor="middle" x="195.11" y="386.51" font-size="7.01">.506</text>
<text class="sm" text-anchor="middle" x="242.1" y="386.51" font-size="7.01">1.77</text>
<text class="sm" text-anchor="middle" x="325" y="386.51" font-size="7.01">4</text>
<text class="sm" text-anchor="middle" x="176.3" y="395.51" font-size="7.01">Theta</text>
<text class="sm" text-anchor="middle" transform="translate(8.61 304.95) rotate(-90)" font-size="7.01">Probability</text>
<line x1="28.4" x2="41.5" y1="408.5" y2="408.5" stroke="#5fa8d2" stroke-width="1.07" stroke-opacity=".9"/>
<text class="sm" x="46.01" y="411.1" font-size="7.27" textLength="54.57" lengthAdjust="spacingAndGlyphs">Pr(swemwbs3≥2)</text>
<line x1="104.71" x2="117.81" y1="408.5" y2="408.5" stroke="#ae4c7e" stroke-width="1.07" stroke-opacity=".9"/>
<text class="sm" x="122.32" y="411.1" font-size="7.27" textLength="54.57" lengthAdjust="spacingAndGlyphs">Pr(swemwbs3≥3)</text>
<line x1="181.02" x2="194.12" y1="408.5" y2="408.5" stroke="#4fbb99" stroke-width="1.07" stroke-opacity=".9"/>
<text class="sm" x="198.63" y="411.1" font-size="7.27" textLength="54.57" lengthAdjust="spacingAndGlyphs">Pr(swemwbs3≥4)</text>
<line x1="257.33" x2="270.43" y1="408.5" y2="408.5" stroke="#eee15a" stroke-width="1.07" stroke-opacity=".9"/>
<text class="sm" x="274.93" y="411.1" font-size="7.27" textLength="54.57" lengthAdjust="spacingAndGlyphs">Pr(swemwbs3=5)</text>
</g>
<g class="p4">
<line class="gr" x1="370.4" x2="681.34" y1="371" y2="371"/>
<line class="gr" x1="370.4" x2="681.34" y1="305.2" y2="305.2"/>
<line class="gr" x1="370.4" x2="681.34" y1="239.4" y2="239.4"/>
<line class="gr" x1="370.4" x2="370.4" y1="235.66" y2="371"/>
<line class="gr" x1="455.75" x2="455.75" y1="235.66" y2="371"/>
<line class="gr" x1="486.95" x2="486.95" y1="235.66" y2="371"/>
<line class="gr" x1="529.36" x2="529.36" y1="235.66" y2="371"/>
<line class="gr" x1="575.94" x2="575.94" y1="235.66" y2="371"/>
<line class="gr" x1="676.6" x2="676.6" y1="235.66" y2="371"/>
<path class="ax" style="stroke:#808080;stroke-width:1.25" d="M365.5 234.66V375.3H681.34"/>
<path class="ax" d="M365.5 371h-3.16M365.5 305.2h-3.16M365.5 239.4h-3.16M370.4 375.3v3.16M455.75 375.3v3.16M486.95 375.3v3.16M529.36 375.3v3.16M575.94 375.3v3.16M676.6 375.3v3.16"/>
<line x1="455.75" x2="455.75" y1="305.2" y2="371" stroke="#62acd2" stroke-width="1"/>
<line x1="486.95" x2="486.95" y1="305.2" y2="371" stroke="#b04a80" stroke-width="1"/>
<line x1="529.36" x2="529.36" y1="305.2" y2="371" stroke="#4fc09c" stroke-width="1"/>
<line x1="575.94" x2="575.94" y1="305.2" y2="371" stroke="#f0e25a" stroke-width="1.5"/>
<polyline class="cv" points="370.4,370.97 372.31,370.96 374.23,370.96 376.14,370.95 378.06,370.94 379.97,370.92 381.88,370.91 383.8,370.89 385.71,370.87 387.62,370.84 389.54,370.81 391.45,370.77 393.37,370.72 395.28,370.66 397.19,370.59 399.11,370.51 401.02,370.4 402.93,370.28 404.85,370.13 406.76,369.95 408.67,369.74 410.59,369.48 412.5,369.17 414.42,368.79 416.33,368.35 418.24,367.81 420.16,367.17 422.07,366.4 423.99,365.48 425.9,364.4 427.81,363.11 429.73,361.59 431.64,359.8 433.55,357.71 435.47,355.29 437.38,352.49 439.29,349.28 441.21,345.64 443.12,341.56 445.04,337.03 446.95,332.07 448.86,326.71 450.78,321.01 452.69,315.05 454.61,308.92 456.52,302.72 458.43,296.57 460.35,290.56 462.26,284.81 464.17,279.38 466.09,274.33 468,269.71 469.91,265.54 471.83,261.81 473.74,258.52 475.66,255.64 477.57,253.14 479.48,250.99 481.4,249.15 483.31,247.58 485.23,246.24 487.14,245.12 489.05,244.17 490.97,243.38 492.88,242.71 494.79,242.15 496.71,241.69 498.62,241.3 500.53,240.98 502.45,240.71 504.36,240.49 506.28,240.3 508.19,240.15 510.1,240.02 512.02,239.91 513.93,239.83 515.85,239.75 517.76,239.69 519.67,239.64 521.59,239.6 523.5,239.57 525.41,239.54 527.33,239.51 529.24,239.49 531.15,239.48 533.07,239.46 534.98,239.45 536.9,239.44 538.81,239.44 540.72,239.43 542.64,239.43 544.55,239.42 546.47,239.42 548.38,239.41 550.29,239.41 552.21,239.41 554.12,239.41 556.03,239.41 557.95,239.41 559.86,239.4 561.77,239.4 563.69,239.4 565.6,239.4 567.52,239.4 569.43,239.4 571.34,239.4 573.26,239.4 575.17,239.4 577.09,239.4 579,239.4 580.91,239.4 582.83,239.4 584.74,239.4 586.65,239.4 588.57,239.4 590.48,239.4 592.39,239.4 594.31,239.4 596.22,239.4 598.14,239.4 600.05,239.4 601.96,239.4 603.88,239.4 605.79,239.4 607.71,239.4 609.62,239.4 611.53,239.4 613.45,239.4 615.36,239.4 617.27,239.4 619.19,239.4 621.1,239.4 623.01,239.4 624.93,239.4 626.84,239.4 628.76,239.4 630.67,239.4 632.58,239.4 634.5,239.4 636.41,239.4 638.33,239.4 640.24,239.4 642.15,239.4 644.07,239.4 645.98,239.4 647.89,239.4 649.81,239.4 651.72,239.4 653.63,239.4 655.55,239.4 657.46,239.4 659.38,239.4 661.29,239.4 663.2,239.4 665.12,239.4 667.03,239.4 668.94,239.4 670.86,239.4 672.77,239.4 674.69,239.4 676.6,239.4" stroke="#51a0ce"/>
<polyline class="cv" points="370.4,371 372.31,371 374.23,371 376.14,371 378.06,371 379.97,371 381.88,371 383.8,370.99 385.71,370.99 387.62,370.99 389.54,370.99 391.45,370.99 393.37,370.99 395.28,370.98 397.19,370.98 399.11,370.98 401.02,370.97 402.93,370.97 404.85,370.96 406.76,370.95 408.67,370.94 410.59,370.93 412.5,370.91 414.42,370.9 416.33,370.87 418.24,370.85 420.16,370.82 422.07,370.78 423.99,370.73 425.9,370.68 427.81,370.61 429.73,370.53 431.64,370.44 433.55,370.32 435.47,370.18 437.38,370.01 439.29,369.81 441.21,369.56 443.12,369.27 445.04,368.91 446.95,368.49 448.86,367.98 450.78,367.37 452.69,366.64 454.61,365.77 456.52,364.74 458.43,363.52 460.35,362.07 462.26,360.37 464.17,358.37 466.09,356.05 468,353.37 469.91,350.29 471.83,346.78 473.74,342.83 475.66,338.43 477.57,333.6 479.48,328.35 481.4,322.75 483.31,316.86 485.23,310.77 487.14,304.58 489.05,298.4 490.97,292.34 492.88,286.5 494.79,280.97 496.71,275.8 498.62,271.05 500.53,266.74 502.45,262.88 504.36,259.47 506.28,256.47 508.19,253.86 510.1,251.6 512.02,249.67 513.93,248.02 515.85,246.62 517.76,245.44 519.67,244.44 521.59,243.6 523.5,242.9 525.41,242.31 527.33,241.82 529.24,241.41 531.15,241.07 533.07,240.79 534.98,240.55 536.9,240.35 538.81,240.19 540.72,240.06 542.64,239.94 544.55,239.85 546.47,239.77 548.38,239.71 550.29,239.66 552.21,239.61 554.12,239.58 556.03,239.55 557.95,239.52 559.86,239.5 561.77,239.48 563.69,239.47 565.6,239.46 567.52,239.45 569.43,239.44 571.34,239.43 573.26,239.43 575.17,239.42 577.09,239.42 579,239.42 580.91,239.41 582.83,239.41 584.74,239.41 586.65,239.41 588.57,239.41 590.48,239.4 592.39,239.4 594.31,239.4 596.22,239.4 598.14,239.4 600.05,239.4 601.96,239.4 603.88,239.4 605.79,239.4 607.71,239.4 609.62,239.4 611.53,239.4 613.45,239.4 615.36,239.4 617.27,239.4 619.19,239.4 621.1,239.4 623.01,239.4 624.93,239.4 626.84,239.4 628.76,239.4 630.67,239.4 632.58,239.4 634.5,239.4 636.41,239.4 638.33,239.4 640.24,239.4 642.15,239.4 644.07,239.4 645.98,239.4 647.89,239.4 649.81,239.4 651.72,239.4 653.63,239.4 655.55,239.4 657.46,239.4 659.38,239.4 661.29,239.4 663.2,239.4 665.12,239.4 667.03,239.4 668.94,239.4 670.86,239.4 672.77,239.4 674.69,239.4 676.6,239.4" stroke="#a73c73"/>
<polyline class="cv" points="370.4,371 372.31,371 374.23,371 376.14,371 378.06,371 379.97,371 381.88,371 383.8,371 385.71,371 387.62,371 389.54,371 391.45,371 393.37,371 395.28,371 397.19,371 399.11,371 401.02,371 402.93,371 404.85,371 406.76,371 408.67,371 410.59,371 412.5,371 414.42,371 416.33,371 418.24,371 420.16,371 422.07,371 423.99,371 425.9,371 427.81,370.99 429.73,370.99 431.64,370.99 433.55,370.99 435.47,370.99 437.38,370.98 439.29,370.98 441.21,370.98 443.12,370.97 445.04,370.97 446.95,370.96 448.86,370.95 450.78,370.94 452.69,370.93 454.61,370.92 456.52,370.9 458.43,370.88 460.35,370.85 462.26,370.82 464.17,370.79 466.09,370.74 468,370.69 469.91,370.62 471.83,370.55 473.74,370.45 475.66,370.34 477.57,370.2 479.48,370.04 481.4,369.84 483.31,369.6 485.23,369.32 487.14,368.97 489.05,368.56 490.97,368.07 492.88,367.48 494.79,366.77 496.71,365.92 498.62,364.92 500.53,363.73 502.45,362.32 504.36,360.66 506.28,358.71 508.19,356.45 510.1,353.82 512.02,350.81 513.93,347.37 515.85,343.49 517.76,339.17 519.67,334.4 521.59,329.22 523.5,323.67 525.41,317.82 527.33,311.75 529.24,305.57 531.15,299.39 533.07,293.3 534.98,287.42 536.9,281.83 538.81,276.6 540.72,271.78 542.64,267.4 544.55,263.47 546.47,259.98 548.38,256.92 550.29,254.25 552.21,251.94 554.12,249.96 556.03,248.27 557.95,246.83 559.86,245.61 561.77,244.59 563.69,243.73 565.6,243 567.52,242.4 569.43,241.89 571.34,241.47 573.26,241.12 575.17,240.83 577.09,240.58 579,240.38 580.91,240.21 582.83,240.08 584.74,239.96 586.65,239.86 588.57,239.78 590.48,239.72 592.39,239.66 594.31,239.62 596.22,239.58 598.14,239.55 600.05,239.52 601.96,239.5 603.88,239.49 605.79,239.47 607.71,239.46 609.62,239.45 611.53,239.44 613.45,239.43 615.36,239.43 617.27,239.42 619.19,239.42 621.1,239.42 623.01,239.41 624.93,239.41 626.84,239.41 628.76,239.41 630.67,239.41 632.58,239.41 634.5,239.4 636.41,239.4 638.33,239.4 640.24,239.4 642.15,239.4 644.07,239.4 645.98,239.4 647.89,239.4 649.81,239.4 651.72,239.4 653.63,239.4 655.55,239.4 657.46,239.4 659.38,239.4 661.29,239.4 663.2,239.4 665.12,239.4 667.03,239.4 668.94,239.4 670.86,239.4 672.77,239.4 674.69,239.4 676.6,239.4" stroke="#40b590"/>
<polyline class="cv" points="370.4,371 372.31,371 374.23,371 376.14,371 378.06,371 379.97,371 381.88,371 383.8,371 385.71,371 387.62,371 389.54,371 391.45,371 393.37,371 395.28,371 397.19,371 399.11,371 401.02,371 402.93,371 404.85,371 406.76,371 408.67,371 410.59,371 412.5,371 414.42,371 416.33,371 418.24,371 420.16,371 422.07,371 423.99,371 425.9,371 427.81,371 429.73,371 431.64,371 433.55,371 435.47,371 437.38,371 439.29,371 441.21,371 443.12,371 445.04,371 446.95,371 448.86,371 450.78,371 452.69,371 454.61,371 456.52,371 458.43,371 460.35,371 462.26,371 464.17,371 466.09,371 468,371 469.91,371 471.83,371 473.74,370.99 475.66,370.99 477.57,370.99 479.48,370.99 481.4,370.99 483.31,370.99 485.23,370.98 487.14,370.98 489.05,370.97 490.97,370.97 492.88,370.96 494.79,370.96 496.71,370.95 498.62,370.94 500.53,370.92 502.45,370.91 504.36,370.89 506.28,370.86 508.19,370.83 510.1,370.8 512.02,370.76 513.93,370.71 515.85,370.65 517.76,370.57 519.67,370.49 521.59,370.38 523.5,370.25 525.41,370.1 527.33,369.91 529.24,369.69 531.15,369.42 533.07,369.1 534.98,368.71 536.9,368.25 538.81,367.69 540.72,367.02 542.64,366.23 544.55,365.28 546.47,364.16 548.38,362.82 550.29,361.25 552.21,359.41 554.12,357.26 556.03,354.76 557.95,351.88 559.86,348.59 561.77,344.86 563.69,340.69 565.6,336.07 567.52,331.02 569.43,325.59 571.34,319.84 573.26,313.83 575.17,307.68 577.09,301.48 579,295.35 580.91,289.39 582.83,283.69 584.74,278.33 586.65,273.37 588.57,268.84 590.48,264.76 592.39,261.12 594.31,257.91 596.22,255.11 598.14,252.69 600.05,250.6 601.96,248.81 603.88,247.29 605.79,246 607.71,244.92 609.62,244 611.53,243.23 613.45,242.59 615.36,242.05 617.27,241.61 619.19,241.23 621.1,240.92 623.01,240.66 624.93,240.45 626.84,240.27 628.76,240.12 630.67,240 632.58,239.89 634.5,239.81 636.41,239.74 638.33,239.68 640.24,239.63 642.15,239.59 644.07,239.56 645.98,239.53 647.89,239.51 649.81,239.49 651.72,239.48 653.63,239.46 655.55,239.45 657.46,239.44 659.38,239.44 661.29,239.43 663.2,239.42 665.12,239.42 667.03,239.42 668.94,239.41 670.86,239.41 672.77,239.41 674.69,239.41 676.6,239.41" stroke="#edde4c"/>
<text class="tt" x="523.4" y="230.81" font-size="10.53" textLength="157.2" lengthAdjust="spacingAndGlyphs">Item Characteristic Curves - Item 4</text>
<text class="sm" text-anchor="end" x="361.28" y="373.98" font-size="7.22">0</text>
<text class="sm" text-anchor="end" x="361.28" y="308.18" font-size="7.22">.5</text>
<text class="sm" text-anchor="end" x="361.28" y="242.38" font-size="7.22">1</text>
<text class="sm" text-anchor="middle" x="370.4" y="386.58" font-size="7.22">-4</text>
<text class="sm" text-anchor="middle" x="455.75" y="386.58" font-size="7.22">-1.77</text>
<text class="sm" text-anchor="middle" x="486.95" y="386.58" font-size="7.22">-.955</text>
<text class="sm" text-anchor="middle" x="529.36" y="386.58" font-size="7.22">.153</text>
<text class="sm" text-anchor="middle" x="575.94" y="386.58" font-size="7.22">1.37</text>
<text class="sm" text-anchor="middle" x="676.6" y="386.58" font-size="7.22">4</text>
<text class="sm" text-anchor="middle" x="523.5" y="395.78" font-size="7.22">Theta</text>
<text class="sm" text-anchor="middle" transform="translate(350.78 305.2) rotate(-90)" font-size="7.22">Probability</text>
<line x1="371.4" x2="384.89" y1="408.5" y2="408.5" stroke="#5fa8d2" stroke-width="1.11" stroke-opacity=".9"/>
<text class="sm" x="389.53" y="411.18" font-size="7.48" textLength="56.18" lengthAdjust="spacingAndGlyphs">Pr(swemwbs4≥2)</text>
<line x1="449.93" x2="463.42" y1="408.5" y2="408.5" stroke="#ae4c7e" stroke-width="1.11" stroke-opacity=".9"/>
<text class="sm" x="468.06" y="411.18" font-size="7.48" textLength="56.18" lengthAdjust="spacingAndGlyphs">Pr(swemwbs4≥3)</text>
<line x1="528.46" x2="541.95" y1="408.5" y2="408.5" stroke="#4fbb99" stroke-width="1.11" stroke-opacity=".9"/>
<text class="sm" x="546.59" y="411.18" font-size="7.48" textLength="56.18" lengthAdjust="spacingAndGlyphs">Pr(swemwbs4≥4)</text>
<line x1="606.99" x2="620.48" y1="408.5" y2="408.5" stroke="#eee15a" stroke-width="1.11" stroke-opacity=".9"/>
<text class="sm" x="625.12" y="411.18" font-size="7.48" textLength="56.18" lengthAdjust="spacingAndGlyphs">Pr(swemwbs4=5)</text>
</g>
<g class="p5">
<line class="gr" x1="28.1" x2="334.98" y1="595.6" y2="595.6"/>
<line class="gr" x1="28.1" x2="334.98" y1="530.9" y2="530.9"/>
<line class="gr" x1="28.1" x2="334.98" y1="466.2" y2="466.2"/>
<line class="gr" x1="28.1" x2="28.1" y1="462.52" y2="595.6"/>
<line class="gr" x1="102.14" x2="102.14" y1="462.52" y2="595.6"/>
<line class="gr" x1="136.14" x2="136.14" y1="462.52" y2="595.6"/>
<line class="gr" x1="177.93" x2="177.93" y1="462.52" y2="595.6"/>
<line class="gr" x1="229.06" x2="229.06" y1="462.52" y2="595.6"/>
<line class="gr" x1="330.3" x2="330.3" y1="462.52" y2="595.6"/>
<path class="ax" d="M23.6 461.52V600.3H334.98"/>
<path class="ax" d="M23.6 595.6h-3.12M23.6 530.9h-3.12M23.6 466.2h-3.12M28.1 600.3v3.12M102.14 600.3v3.12M136.14 600.3v3.12M177.93 600.3v3.12M229.06 600.3v3.12M330.3 600.3v3.12"/>
<line x1="102.14" x2="102.14" y1="530.9" y2="595.6" stroke="#96c6e8" stroke-width="1.5"/>
<line x1="136.14" x2="136.14" y1="530.9" y2="595.6" stroke="#d4a6c4" stroke-width="1.9"/>
<line x1="177.93" x2="177.93" y1="530.9" y2="595.6" stroke="#58c29c" stroke-width="1.3"/>
<line x1="229.06" x2="229.06" y1="530.9" y2="595.6" stroke="#f1e570" stroke-width="1.5"/>
<polyline class="cv" points="28.1,595.33 29.99,595.29 31.88,595.23 33.77,595.17 35.66,595.1 37.54,595.01 39.43,594.91 41.32,594.79 43.21,594.66 45.1,594.5 46.99,594.31 48.88,594.09 50.77,593.84 52.65,593.54 54.54,593.2 56.43,592.8 58.32,592.33 60.21,591.79 62.1,591.17 63.99,590.44 65.88,589.6 67.76,588.63 69.65,587.52 71.54,586.24 73.43,584.78 75.32,583.11 77.21,581.22 79.1,579.08 80.98,576.67 82.87,573.98 84.76,570.99 86.65,567.7 88.54,564.1 90.43,560.2 92.32,556.01 94.21,551.55 96.09,546.87 97.98,542 99.87,537 101.76,531.92 103.65,526.83 105.54,521.79 107.43,516.86 109.32,512.1 111.21,507.55 113.09,503.25 114.98,499.22 116.87,495.5 118.76,492.09 120.65,488.98 122.54,486.17 124.43,483.65 126.31,481.41 128.2,479.42 130.09,477.66 131.98,476.12 133.87,474.77 135.76,473.59 137.65,472.57 139.54,471.68 141.42,470.91 143.31,470.25 145.2,469.67 147.09,469.18 148.98,468.75 150.87,468.39 152.76,468.07 154.65,467.8 156.53,467.57 158.42,467.37 160.31,467.2 162.2,467.06 164.09,466.93 165.98,466.83 167.87,466.74 169.76,466.66 171.64,466.59 173.53,466.54 175.42,466.49 177.31,466.44 179.2,466.41 181.09,466.38 182.98,466.35 184.87,466.33 186.75,466.31 188.64,466.3 190.53,466.28 192.42,466.27 194.31,466.26 196.2,466.25 198.09,466.24 199.98,466.24 201.86,466.23 203.75,466.23 205.64,466.22 207.53,466.22 209.42,466.22 211.31,466.21 213.2,466.21 215.09,466.21 216.97,466.21 218.86,466.21 220.75,466.21 222.64,466.21 224.53,466.2 226.42,466.2 228.31,466.2 230.2,466.2 232.09,466.2 233.97,466.2 235.86,466.2 237.75,466.2 239.64,466.2 241.53,466.2 243.42,466.2 245.31,466.2 247.19,466.2 249.08,466.2 250.97,466.2 252.86,466.2 254.75,466.2 256.64,466.2 258.53,466.2 260.42,466.2 262.31,466.2 264.19,466.2 266.08,466.2 267.97,466.2 269.86,466.2 271.75,466.2 273.64,466.2 275.53,466.2 277.41,466.2 279.3,466.2 281.19,466.2 283.08,466.2 284.97,466.2 286.86,466.2 288.75,466.2 290.64,466.2 292.53,466.2 294.41,466.2 296.3,466.2 298.19,466.2 300.08,466.2 301.97,466.2 303.86,466.2 305.75,466.2 307.64,466.2 309.52,466.2 311.41,466.2 313.3,466.2 315.19,466.2 317.08,466.2 318.97,466.2 320.86,466.2 322.75,466.2 324.63,466.2 326.52,466.2 328.41,466.2 330.3,466.2" stroke="#51a0ce"/>
<polyline class="cv" points="28.1,595.58 29.99,595.58 31.88,595.58 33.77,595.57 35.66,595.57 37.54,595.57 39.43,595.56 41.32,595.55 43.21,595.54 45.1,595.53 46.99,595.52 48.88,595.51 50.77,595.5 52.65,595.48 54.54,595.46 56.43,595.43 58.32,595.4 60.21,595.37 62.1,595.33 63.99,595.29 65.88,595.23 67.76,595.17 69.65,595.1 71.54,595.01 73.43,594.91 75.32,594.79 77.21,594.66 79.1,594.5 80.98,594.31 82.87,594.09 84.76,593.84 86.65,593.54 88.54,593.2 90.43,592.8 92.32,592.33 94.21,591.79 96.09,591.17 97.98,590.44 99.87,589.6 101.76,588.63 103.65,587.52 105.54,586.24 107.43,584.78 109.32,583.11 111.21,581.22 113.09,579.08 114.98,576.67 116.87,573.98 118.76,570.99 120.65,567.7 122.54,564.1 124.43,560.2 126.31,556.01 128.2,551.55 130.09,546.87 131.98,542 133.87,537 135.76,531.92 137.65,526.83 139.54,521.79 141.42,516.86 143.31,512.1 145.2,507.55 147.09,503.25 148.98,499.22 150.87,495.5 152.76,492.09 154.65,488.98 156.53,486.17 158.42,483.65 160.31,481.41 162.2,479.42 164.09,477.66 165.98,476.12 167.87,474.77 169.76,473.59 171.64,472.57 173.53,471.68 175.42,470.91 177.31,470.25 179.2,469.67 181.09,469.18 182.98,468.75 184.87,468.39 186.75,468.07 188.64,467.8 190.53,467.57 192.42,467.37 194.31,467.2 196.2,467.06 198.09,466.93 199.98,466.83 201.86,466.74 203.75,466.66 205.64,466.59 207.53,466.54 209.42,466.49 211.31,466.44 213.2,466.41 215.09,466.38 216.97,466.35 218.86,466.33 220.75,466.31 222.64,466.3 224.53,466.28 226.42,466.27 228.31,466.26 230.2,466.25 232.09,466.24 233.97,466.24 235.86,466.23 237.75,466.23 239.64,466.22 241.53,466.22 243.42,466.22 245.31,466.21 247.19,466.21 249.08,466.21 250.97,466.21 252.86,466.21 254.75,466.21 256.64,466.21 258.53,466.2 260.42,466.2 262.31,466.2 264.19,466.2 266.08,466.2 267.97,466.2 269.86,466.2 271.75,466.2 273.64,466.2 275.53,466.2 277.41,466.2 279.3,466.2 281.19,466.2 283.08,466.2 284.97,466.2 286.86,466.2 288.75,466.2 290.64,466.2 292.53,466.2 294.41,466.2 296.3,466.2 298.19,466.2 300.08,466.2 301.97,466.2 303.86,466.2 305.75,466.2 307.64,466.2 309.52,466.2 311.41,466.2 313.3,466.2 315.19,466.2 317.08,466.2 318.97,466.2 320.86,466.2 322.75,466.2 324.63,466.2 326.52,466.2 328.41,466.2 330.3,466.2" stroke="#a73c73"/>
<polyline class="cv" points="28.1,595.6 29.99,595.6 31.88,595.6 33.77,595.6 35.66,595.6 37.54,595.6 39.43,595.6 41.32,595.6 43.21,595.6 45.1,595.6 46.99,595.6 48.88,595.6 50.77,595.6 52.65,595.6 54.54,595.6 56.43,595.59 58.32,595.59 60.21,595.59 62.1,595.59 63.99,595.59 65.88,595.59 67.76,595.59 69.65,595.58 71.54,595.58 73.43,595.58 75.32,595.58 77.21,595.57 79.1,595.57 80.98,595.56 82.87,595.55 84.76,595.55 86.65,595.54 88.54,595.53 90.43,595.51 92.32,595.5 94.21,595.48 96.09,595.46 97.98,595.44 99.87,595.41 101.76,595.37 103.65,595.34 105.54,595.29 107.43,595.24 109.32,595.18 111.21,595.11 113.09,595.02 114.98,594.92 116.87,594.81 118.76,594.68 120.65,594.52 122.54,594.34 124.43,594.12 126.31,593.88 128.2,593.59 130.09,593.25 131.98,592.86 133.87,592.4 135.76,591.87 137.65,591.25 139.54,590.54 141.42,589.72 143.31,588.77 145.2,587.67 147.09,586.42 148.98,584.98 150.87,583.34 152.76,581.48 154.65,579.37 156.53,577 158.42,574.35 160.31,571.4 162.2,568.15 164.09,564.59 165.98,560.72 167.87,556.57 169.76,552.14 171.64,547.49 173.53,542.64 175.42,537.65 177.31,532.58 179.2,527.49 181.09,522.44 182.98,517.49 184.87,512.7 186.75,508.12 188.64,503.79 190.53,499.73 192.42,495.97 194.31,492.51 196.2,489.36 198.09,486.52 199.98,483.96 201.86,481.69 203.75,479.66 205.64,477.88 207.53,476.31 209.42,474.94 211.31,473.74 213.2,472.69 215.09,471.79 216.97,471 218.86,470.33 220.75,469.74 222.64,469.24 224.53,468.8 226.42,468.43 228.31,468.11 230.2,467.84 232.09,467.6 233.97,467.4 235.86,467.22 237.75,467.08 239.64,466.95 241.53,466.84 243.42,466.75 245.31,466.67 247.19,466.6 249.08,466.54 250.97,466.49 252.86,466.45 254.75,466.41 256.64,466.38 258.53,466.36 260.42,466.33 262.31,466.31 264.19,466.3 266.08,466.28 267.97,466.27 269.86,466.26 271.75,466.25 273.64,466.24 275.53,466.24 277.41,466.23 279.3,466.23 281.19,466.22 283.08,466.22 284.97,466.22 286.86,466.21 288.75,466.21 290.64,466.21 292.53,466.21 294.41,466.21 296.3,466.21 298.19,466.21 300.08,466.2 301.97,466.2 303.86,466.2 305.75,466.2 307.64,466.2 309.52,466.2 311.41,466.2 313.3,466.2 315.19,466.2 317.08,466.2 318.97,466.2 320.86,466.2 322.75,466.2 324.63,466.2 326.52,466.2 328.41,466.2 330.3,466.2" stroke="#40b590"/>
<polyline class="cv" points="28.1,595.6 29.99,595.6 31.88,595.6 33.77,595.6 35.66,595.6 37.54,595.6 39.43,595.6 41.32,595.6 43.21,595.6 45.1,595.6 46.99,595.6 48.88,595.6 50.77,595.6 52.65,595.6 54.54,595.6 56.43,595.6 58.32,595.6 60.21,595.6 62.1,595.6 63.99,595.6 65.88,595.6 67.76,595.6 69.65,595.6 71.54,595.6 73.43,595.6 75.32,595.6 77.21,595.6 79.1,595.6 80.98,595.6 82.87,595.6 84.76,595.6 86.65,595.6 88.54,595.6 90.43,595.6 92.32,595.6 94.21,595.6 96.09,595.6 97.98,595.6 99.87,595.6 101.76,595.6 103.65,595.6 105.54,595.6 107.43,595.59 109.32,595.59 111.21,595.59 113.09,595.59 114.98,595.59 116.87,595.59 118.76,595.59 120.65,595.58 122.54,595.58 124.43,595.58 126.31,595.58 128.2,595.57 130.09,595.57 131.98,595.56 133.87,595.55 135.76,595.55 137.65,595.54 139.54,595.53 141.42,595.51 143.31,595.5 145.2,595.48 147.09,595.46 148.98,595.44 150.87,595.41 152.76,595.38 154.65,595.34 156.53,595.3 158.42,595.24 160.31,595.18 162.2,595.11 164.09,595.03 165.98,594.93 167.87,594.82 169.76,594.69 171.64,594.53 173.53,594.35 175.42,594.14 177.31,593.89 179.2,593.61 181.09,593.27 182.98,592.89 184.87,592.43 186.75,591.91 188.64,591.3 190.53,590.59 192.42,589.78 194.31,588.84 196.2,587.76 198.09,586.51 199.98,585.09 201.86,583.46 203.75,581.61 205.64,579.53 207.53,577.17 209.42,574.54 211.31,571.62 213.2,568.38 215.09,564.85 216.97,561 218.86,556.87 220.75,552.46 222.64,547.82 224.53,542.98 226.42,538 228.31,532.94 230.2,527.85 232.09,522.79 233.97,517.83 235.86,513.03 237.75,508.44 239.64,504.08 241.53,500.01 243.42,496.22 245.31,492.74 247.19,489.58 249.08,486.71 250.97,484.13 252.86,481.84 254.75,479.8 256.64,478 258.53,476.41 260.42,475.03 262.31,473.82 264.19,472.76 266.08,471.85 267.97,471.06 269.86,470.37 271.75,469.78 273.64,469.27 275.53,468.83 277.41,468.46 279.3,468.13 281.19,467.85 283.08,467.62 284.97,467.41 286.86,467.24 288.75,467.09 290.64,466.96 292.53,466.85 294.41,466.75 296.3,466.67 298.19,466.6 300.08,466.55 301.97,466.5 303.86,466.45 305.75,466.42 307.64,466.38 309.52,466.36 311.41,466.33 313.3,466.32 315.19,466.3 317.08,466.28 318.97,466.27 320.86,466.26 322.75,466.25 324.63,466.24 326.52,466.24 328.41,466.23 330.3,466.23" stroke="#edde4c"/>
<text class="tt" x="179.35" y="458.7" font-size="10.42" textLength="152.7" lengthAdjust="spacingAndGlyphs">Item Characteristic Curves -Item 5</text>
<text class="sm" text-anchor="end" x="19.44" y="598.55" font-size="7.13">0</text>
<text class="sm" text-anchor="end" x="19.44" y="533.85" font-size="7.13">.5</text>
<text class="sm" text-anchor="end" x="19.44" y="469.15" font-size="7.13">1</text>
<text class="sm" text-anchor="middle" x="28.1" y="611.55" font-size="7.13">-4</text>
<text class="sm" text-anchor="middle" x="102.14" y="611.55" font-size="7.13">-2.04</text>
<text class="sm" text-anchor="middle" x="136.14" y="611.55" font-size="7.13">-1.14</text>
<text class="sm" text-anchor="middle" x="177.93" y="611.55" font-size="7.13">-.0335</text>
<text class="sm" text-anchor="middle" x="229.06" y="611.55" font-size="7.13">1.32</text>
<text class="sm" text-anchor="middle" x="330.3" y="611.55" font-size="7.13">4</text>
<text class="sm" text-anchor="middle" x="179.2" y="620.35" font-size="7.13">Theta</text>
<text class="sm" text-anchor="middle" transform="translate(8.55 530.9) rotate(-90)" font-size="7.13">Probability</text>
<line x1="29.1" x2="42.42" y1="633.5" y2="633.5" stroke="#5fa8d2" stroke-width="1.09" stroke-opacity=".9"/>
<text class="sm" x="46.99" y="635.64" font-size="7.39" textLength="55.45" lengthAdjust="spacingAndGlyphs">Pr(swemwbs5≥2)</text>
<line x1="106.72" x2="120.04" y1="633.5" y2="633.5" stroke="#ae4c7e" stroke-width="1.09" stroke-opacity=".9"/>
<text class="sm" x="124.61" y="635.64" font-size="7.39" textLength="55.45" lengthAdjust="spacingAndGlyphs">Pr(swemwbs5≥3)</text>
<line x1="184.34" x2="197.66" y1="633.5" y2="633.5" stroke="#4fbb99" stroke-width="1.09" stroke-opacity=".9"/>
<text class="sm" x="202.23" y="635.64" font-size="7.39" textLength="55.45" lengthAdjust="spacingAndGlyphs">Pr(swemwbs5≥4)</text>
<line x1="261.96" x2="275.28" y1="633.5" y2="633.5" stroke="#eee15a" stroke-width="1.09" stroke-opacity=".9"/>
<text class="sm" x="279.85" y="635.64" font-size="7.39" textLength="55.45" lengthAdjust="spacingAndGlyphs">Pr(swemwbs5=5)</text>
</g>
<g class="p6">
<line class="gr" x1="374.4" x2="675.59" y1="597" y2="597"/>
<line class="gr" x1="374.4" x2="675.59" y1="533.6" y2="533.6"/>
<line class="gr" x1="374.4" x2="675.59" y1="470.2" y2="470.2"/>
<line class="gr" x1="374.4" x2="374.4" y1="466.61" y2="597"/>
<line class="gr" x1="450.4" x2="450.4" y1="466.61" y2="597"/>
<line class="gr" x1="488.18" x2="488.18" y1="466.61" y2="597"/>
<line class="gr" x1="534.49" x2="534.49" y1="466.61" y2="597"/>
<line class="gr" x1="580.17" x2="580.17" y1="466.61" y2="597"/>
<line class="gr" x1="671" x2="671" y1="466.61" y2="597"/>
<path class="ax" style="stroke:#adadad;stroke-width:1.9" d="M370.1 465.61V601.7H675.59"/>
<path class="ax" d="M370.1 597h-3.06M370.1 533.6h-3.06M370.1 470.2h-3.06M374.4 601.7v3.06M450.4 601.7v3.06M488.18 601.7v3.06M534.49 601.7v3.06M580.17 601.7v3.06M671 601.7v3.06"/>
<line x1="450.4" x2="450.4" y1="533.6" y2="597" stroke="#6db0de" stroke-width="1"/>
<line x1="488.18" x2="488.18" y1="533.6" y2="597" stroke="#c4709a" stroke-width="1.3"/>
<line x1="534.49" x2="534.49" y1="533.6" y2="597" stroke="#5cc2a0" stroke-width="1"/>
<line x1="580.17" x2="580.17" y1="533.6" y2="597" stroke="#f1e468" stroke-width="1.3"/>
<polyline class="cv" points="374.4,595.62 376.25,595.46 378.11,595.29 379.96,595.09 381.81,594.87 383.67,594.63 385.52,594.36 387.38,594.06 389.23,593.72 391.08,593.35 392.94,592.94 394.79,592.49 396.64,591.99 398.5,591.43 400.35,590.81 402.21,590.13 404.06,589.38 405.91,588.55 407.77,587.64 409.62,586.65 411.47,585.55 413.33,584.35 415.18,583.04 417.04,581.62 418.89,580.07 420.74,578.39 422.6,576.57 424.45,574.62 426.3,572.52 428.16,570.27 430.01,567.87 431.87,565.33 433.72,562.65 435.57,559.83 437.43,556.87 439.28,553.79 441.13,550.61 442.99,547.33 444.84,543.97 446.7,540.55 448.55,537.08 450.4,533.6 452.26,530.12 454.11,526.65 455.96,523.23 457.82,519.87 459.67,516.59 461.53,513.41 463.38,510.33 465.23,507.37 467.09,504.55 468.94,501.87 470.79,499.33 472.65,496.93 474.5,494.68 476.36,492.58 478.21,490.63 480.06,488.81 481.92,487.13 483.77,485.58 485.62,484.16 487.48,482.85 489.33,481.65 491.19,480.55 493.04,479.56 494.89,478.65 496.75,477.82 498.6,477.07 500.45,476.39 502.31,475.77 504.16,475.21 506.02,474.71 507.87,474.26 509.72,473.85 511.58,473.48 513.43,473.14 515.28,472.84 517.14,472.57 518.99,472.33 520.85,472.11 522.7,471.91 524.55,471.74 526.41,471.58 528.26,471.44 530.12,471.31 531.97,471.19 533.82,471.09 535.68,471 537.53,470.92 539.38,470.84 541.24,470.78 543.09,470.72 544.94,470.66 546.8,470.61 548.65,470.57 550.51,470.53 552.36,470.5 554.21,470.47 556.07,470.44 557.92,470.41 559.77,470.39 561.63,470.37 563.48,470.35 565.34,470.34 567.19,470.32 569.04,470.31 570.9,470.3 572.75,470.29 574.61,470.28 576.46,470.27 578.31,470.26 580.17,470.26 582.02,470.25 583.87,470.25 585.73,470.24 587.58,470.24 589.43,470.23 591.29,470.23 593.14,470.23 595,470.22 596.85,470.22 598.7,470.22 600.56,470.22 602.41,470.22 604.26,470.21 606.12,470.21 607.97,470.21 609.83,470.21 611.68,470.21 613.53,470.21 615.39,470.21 617.24,470.21 619.1,470.21 620.95,470.21 622.8,470.2 624.66,470.2 626.51,470.2 628.36,470.2 630.22,470.2 632.07,470.2 633.92,470.2 635.78,470.2 637.63,470.2 639.49,470.2 641.34,470.2 643.19,470.2 645.05,470.2 646.9,470.2 648.75,470.2 650.61,470.2 652.46,470.2 654.32,470.2 656.17,470.2 658.02,470.2 659.88,470.2 661.73,470.2 663.59,470.2 665.44,470.2 667.29,470.2 669.15,470.2 671,470.2" stroke="#51a0ce"/>
<polyline class="cv" points="374.4,596.85 376.25,596.83 378.11,596.82 379.96,596.79 381.81,596.77 383.67,596.74 385.52,596.71 387.38,596.68 389.23,596.64 391.08,596.6 392.94,596.56 394.79,596.5 396.64,596.45 398.5,596.38 400.35,596.31 402.21,596.23 404.06,596.14 405.91,596.05 407.77,595.94 409.62,595.81 411.47,595.68 413.33,595.52 415.18,595.35 417.04,595.17 418.89,594.96 420.74,594.72 422.6,594.46 424.45,594.18 426.3,593.86 428.16,593.5 430.01,593.11 431.87,592.67 433.72,592.18 435.57,591.65 437.43,591.05 439.28,590.4 441.13,589.67 442.99,588.88 444.84,588 446.7,587.04 448.55,585.98 450.4,584.82 452.26,583.55 454.11,582.17 455.96,580.67 457.82,579.04 459.67,577.28 461.53,575.38 463.38,573.33 465.23,571.14 467.09,568.8 468.94,566.32 470.79,563.69 472.65,560.91 474.5,558.01 476.36,554.98 478.21,551.83 480.06,548.58 481.92,545.25 483.77,541.85 485.62,538.4 487.48,534.92 489.33,531.44 491.19,527.97 493.04,524.53 494.89,521.14 496.75,517.83 498.6,514.6 500.45,511.48 502.31,508.48 504.16,505.61 506.02,502.87 507.87,500.27 509.72,497.82 511.58,495.52 513.43,493.37 515.28,491.36 517.14,489.49 518.99,487.76 520.85,486.16 522.7,484.68 524.55,483.33 526.41,482.09 528.26,480.96 530.12,479.92 531.97,478.98 533.82,478.12 535.68,477.34 537.53,476.64 539.38,476 541.24,475.42 543.09,474.9 544.94,474.42 546.8,474 548.65,473.61 550.51,473.26 552.36,472.95 554.21,472.67 556.07,472.42 557.92,472.19 559.77,471.99 561.63,471.8 563.48,471.64 565.34,471.49 567.19,471.36 569.04,471.24 570.9,471.13 572.75,471.03 574.61,470.95 576.46,470.87 578.31,470.8 580.17,470.74 582.02,470.68 583.87,470.63 585.73,470.59 587.58,470.55 589.43,470.51 591.29,470.48 593.14,470.45 595,470.42 596.85,470.4 598.7,470.38 600.56,470.36 602.41,470.34 604.26,470.33 606.12,470.32 607.97,470.3 609.83,470.29 611.68,470.28 613.53,470.27 615.39,470.27 617.24,470.26 619.1,470.25 620.95,470.25 622.8,470.24 624.66,470.24 626.51,470.23 628.36,470.23 630.22,470.23 632.07,470.22 633.92,470.22 635.78,470.22 637.63,470.22 639.49,470.22 641.34,470.21 643.19,470.21 645.05,470.21 646.9,470.21 648.75,470.21 650.61,470.21 652.46,470.21 654.32,470.21 656.17,470.21 658.02,470.21 659.88,470.2 661.73,470.2 663.59,470.2 665.44,470.2 667.29,470.2 669.15,470.2 671,470.2" stroke="#a73c73"/>
<polyline class="cv" points="374.4,596.99 376.25,596.99 378.11,596.99 379.96,596.99 381.81,596.99 383.67,596.98 385.52,596.98 387.38,596.98 389.23,596.98 391.08,596.97 392.94,596.97 394.79,596.97 396.64,596.96 398.5,596.96 400.35,596.96 402.21,596.95 404.06,596.94 405.91,596.94 407.77,596.93 409.62,596.92 411.47,596.91 413.33,596.9 415.18,596.89 417.04,596.88 418.89,596.87 420.74,596.85 422.6,596.83 424.45,596.82 426.3,596.79 428.16,596.77 430.01,596.74 431.87,596.71 433.72,596.68 435.57,596.64 437.43,596.6 439.28,596.56 441.13,596.5 442.99,596.45 444.84,596.38 446.7,596.31 448.55,596.23 450.4,596.14 452.26,596.04 454.11,595.93 455.96,595.81 457.82,595.67 459.67,595.52 461.53,595.35 463.38,595.16 465.23,594.95 467.09,594.72 468.94,594.46 470.79,594.17 472.65,593.85 474.5,593.49 476.36,593.1 478.21,592.66 480.06,592.17 481.92,591.64 483.77,591.04 485.62,590.38 487.48,589.66 489.33,588.86 491.19,587.98 493.04,587.02 494.89,585.96 496.75,584.8 498.6,583.53 500.45,582.14 502.31,580.64 504.16,579.01 506.02,577.24 507.87,575.34 509.72,573.29 511.58,571.09 513.43,568.75 515.28,566.26 517.14,563.63 518.99,560.86 520.85,557.95 522.7,554.91 524.55,551.77 526.41,548.52 528.26,545.18 530.12,541.78 531.97,538.33 533.82,534.86 535.68,531.37 537.53,527.9 539.38,524.46 541.24,521.07 543.09,517.76 544.94,514.54 546.8,511.42 548.65,508.42 550.51,505.55 552.36,502.82 554.21,500.22 556.07,497.78 557.92,495.48 559.77,493.32 561.63,491.32 563.48,489.45 565.34,487.72 567.19,486.13 569.04,484.66 570.9,483.31 572.75,482.07 574.61,480.94 576.46,479.9 578.31,478.96 580.17,478.11 582.02,477.33 583.87,476.63 585.73,475.99 587.58,475.41 589.43,474.89 591.29,474.41 593.14,473.99 595,473.6 596.85,473.26 598.7,472.95 600.56,472.67 602.41,472.41 604.26,472.19 606.12,471.98 607.97,471.8 609.83,471.63 611.68,471.49 613.53,471.35 615.39,471.23 617.24,471.13 619.1,471.03 620.95,470.95 622.8,470.87 624.66,470.8 626.51,470.74 628.36,470.68 630.22,470.63 632.07,470.59 633.92,470.55 635.78,470.51 637.63,470.48 639.49,470.45 641.34,470.42 643.19,470.4 645.05,470.38 646.9,470.36 648.75,470.34 650.61,470.33 652.46,470.32 654.32,470.3 656.17,470.29 658.02,470.28 659.88,470.27 661.73,470.27 663.59,470.26 665.44,470.25 667.29,470.25 669.15,470.24 671,470.24" stroke="#40b590"/>
<polyline class="cv" points="374.4,597 376.25,597 378.11,597 379.96,597 381.81,597 383.67,597 385.52,597 387.38,597 389.23,597 391.08,597 392.94,597 394.79,597 396.64,597 398.5,597 400.35,597 402.21,597 404.06,597 405.91,597 407.77,597 409.62,596.99 411.47,596.99 413.33,596.99 415.18,596.99 417.04,596.99 418.89,596.99 420.74,596.99 422.6,596.99 424.45,596.99 426.3,596.99 428.16,596.98 430.01,596.98 431.87,596.98 433.72,596.98 435.57,596.98 437.43,596.97 439.28,596.97 441.13,596.97 442.99,596.96 444.84,596.96 446.7,596.95 448.55,596.95 450.4,596.94 452.26,596.94 454.11,596.93 455.96,596.92 457.82,596.91 459.67,596.9 461.53,596.89 463.38,596.88 465.23,596.86 467.09,596.85 468.94,596.83 470.79,596.81 472.65,596.79 474.5,596.76 476.36,596.73 478.21,596.7 480.06,596.67 481.92,596.63 483.77,596.59 485.62,596.54 487.48,596.48 489.33,596.42 491.19,596.36 493.04,596.28 494.89,596.2 496.75,596.11 498.6,596.01 500.45,595.89 502.31,595.76 504.16,595.62 506.02,595.46 507.87,595.29 509.72,595.09 511.58,594.87 513.43,594.63 515.28,594.36 517.14,594.06 518.99,593.72 520.85,593.35 522.7,592.94 524.55,592.49 526.41,591.99 528.26,591.43 530.12,590.81 531.97,590.13 533.82,589.38 535.68,588.55 537.53,587.64 539.38,586.65 541.24,585.55 543.09,584.35 544.94,583.04 546.8,581.62 548.65,580.07 550.51,578.39 552.36,576.57 554.21,574.62 556.07,572.52 557.92,570.27 559.77,567.87 561.63,565.33 563.48,562.65 565.34,559.83 567.19,556.87 569.04,553.79 570.9,550.61 572.75,547.33 574.61,543.97 576.46,540.55 578.31,537.08 580.17,533.6 582.02,530.12 583.87,526.65 585.73,523.23 587.58,519.87 589.43,516.59 591.29,513.41 593.14,510.33 595,507.37 596.85,504.55 598.7,501.87 600.56,499.33 602.41,496.93 604.26,494.68 606.12,492.58 607.97,490.63 609.83,488.81 611.68,487.13 613.53,485.58 615.39,484.16 617.24,482.85 619.1,481.65 620.95,480.55 622.8,479.56 624.66,478.65 626.51,477.82 628.36,477.07 630.22,476.39 632.07,475.77 633.92,475.21 635.78,474.71 637.63,474.26 639.49,473.85 641.34,473.48 643.19,473.14 645.05,472.84 646.9,472.57 648.75,472.33 650.61,472.11 652.46,471.91 654.32,471.74 656.17,471.58 658.02,471.44 659.88,471.31 661.73,471.19 663.59,471.09 665.44,471 667.29,470.92 669.15,470.84 671,470.78" stroke="#edde4c"/>
<text class="tt" x="522.9" y="462.29" font-size="10.2" textLength="152.2" lengthAdjust="spacingAndGlyphs">Item Characteristic Curves - Item 6</text>
<text class="sm" text-anchor="end" x="366.02" y="599.9" font-size="6.99">0</text>
<text class="sm" text-anchor="end" x="366.02" y="536.5" font-size="6.99">.5</text>
<text class="sm" text-anchor="end" x="366.02" y="473.1" font-size="6.99">1</text>
<text class="sm" text-anchor="middle" x="374.4" y="612.7" font-size="6.99">-4</text>
<text class="sm" text-anchor="middle" x="450.4" y="612.7" font-size="6.99">-1.95</text>
<text class="sm" text-anchor="middle" x="488.18" y="612.7" font-size="6.99">-.931</text>
<text class="sm" text-anchor="middle" x="534.49" y="612.7" font-size="6.99">.318</text>
<text class="sm" text-anchor="middle" x="580.17" y="612.7" font-size="6.99">1.55</text>
<text class="sm" text-anchor="middle" x="671" y="612.7" font-size="6.99">4</text>
<text class="sm" text-anchor="middle" x="522.7" y="621.5" font-size="6.99">Theta</text>
<text class="sm" text-anchor="middle" transform="translate(355.9 533.6) rotate(-90)" font-size="6.99">Probability</text>
<line x1="375.7" x2="388.77" y1="633.5" y2="633.5" stroke="#5fa8d2" stroke-width="1.07" stroke-opacity=".9"/>
<text class="sm" x="393.26" y="635.9" font-size="7.25" textLength="54.42" lengthAdjust="spacingAndGlyphs">Pr(swemwbs6≥2)</text>
<line x1="451.47" x2="464.54" y1="633.5" y2="633.5" stroke="#ae4c7e" stroke-width="1.07" stroke-opacity=".9"/>
<text class="sm" x="469.03" y="635.9" font-size="7.25" textLength="54.42" lengthAdjust="spacingAndGlyphs">Pr(swemwbs6≥3)</text>
<line x1="527.25" x2="540.32" y1="633.5" y2="633.5" stroke="#4fbb99" stroke-width="1.07" stroke-opacity=".9"/>
<text class="sm" x="544.81" y="635.9" font-size="7.25" textLength="54.42" lengthAdjust="spacingAndGlyphs">Pr(swemwbs6≥4)</text>
<line x1="603.02" x2="616.09" y1="633.5" y2="633.5" stroke="#eee15a" stroke-width="1.07" stroke-opacity=".9"/>
<text class="sm" x="620.58" y="635.9" font-size="7.25" textLength="54.42" lengthAdjust="spacingAndGlyphs">Pr(swemwbs6=5)</text>
</g>
<g class="p7">
<line class="gr" x1="26.9" x2="322" y1="798.1" y2="798.1"/>
<line class="gr" x1="26.9" x2="322" y1="735.55" y2="735.55"/>
<line class="gr" x1="26.9" x2="322" y1="673" y2="673"/>
<line class="gr" x1="26.9" x2="26.9" y1="669.5" y2="798.1"/>
<line class="gr" x1="91.2" x2="91.2" y1="669.5" y2="798.1"/>
<line class="gr" x1="125.7" x2="125.7" y1="669.5" y2="798.1"/>
<line class="gr" x1="163.74" x2="163.74" y1="669.5" y2="798.1"/>
<line class="gr" x1="215.43" x2="215.43" y1="669.5" y2="798.1"/>
<line class="gr" x1="317.5" x2="317.5" y1="669.5" y2="798.1"/>
<path class="ax" d="M22.6 668.5V802.4H322"/>
<path class="ax" d="M22.6 798.1h-3M22.6 735.55h-3M22.6 673h-3M26.9 802.4v3M91.2 802.4v3M125.7 802.4v3M163.74 802.4v3M215.43 802.4v3M317.5 802.4v3"/>
<line x1="91.2" x2="91.2" y1="735.55" y2="798.1" stroke="#a4c8ea" stroke-width="1.7"/>
<line x1="125.7" x2="125.7" y1="735.55" y2="798.1" stroke="#c8507f" stroke-width="1"/>
<line x1="163.74" x2="163.74" y1="735.55" y2="798.1" stroke="#3cb88a" stroke-width="1"/>
<line x1="215.43" x2="215.43" y1="735.55" y2="798.1" stroke="#f3dc4e" stroke-width="1"/>
<polyline class="cv" points="26.9,796.48 28.72,796.28 30.53,796.04 32.35,795.78 34.17,795.48 35.98,795.15 37.8,794.78 39.61,794.36 41.43,793.89 43.25,793.36 45.06,792.77 46.88,792.1 48.7,791.37 50.51,790.54 52.33,789.62 54.14,788.6 55.96,787.47 57.78,786.21 59.59,784.83 61.41,783.31 63.23,781.63 65.04,779.8 66.86,777.8 68.67,775.63 70.49,773.28 72.31,770.76 74.12,768.05 75.94,765.16 77.75,762.11 79.57,758.89 81.39,755.52 83.2,752.01 85.02,748.39 86.84,744.68 88.65,740.9 90.47,737.08 92.28,733.25 94.1,729.44 95.92,725.67 97.73,721.98 99.55,718.38 101.37,714.9 103.18,711.56 105,708.37 106.81,705.35 108.63,702.5 110.45,699.82 112.26,697.33 114.08,695.02 115.9,692.89 117.71,690.92 119.53,689.12 121.34,687.48 123.16,685.98 124.98,684.62 126.79,683.4 128.61,682.29 130.43,681.29 132.24,680.39 134.06,679.58 135.88,678.86 137.69,678.21 139.51,677.63 141.32,677.12 143.14,676.65 144.96,676.24 146.77,675.88 148.59,675.55 150.41,675.26 152.22,675.01 154.04,674.78 155.85,674.58 157.67,674.4 159.49,674.24 161.3,674.1 163.12,673.97 164.94,673.86 166.75,673.76 168.57,673.67 170.38,673.6 172.2,673.53 174.02,673.47 175.83,673.41 177.65,673.37 179.47,673.32 181.28,673.29 183.1,673.25 184.91,673.22 186.73,673.2 188.55,673.18 190.36,673.16 192.18,673.14 194,673.12 195.81,673.11 197.63,673.1 199.44,673.08 201.26,673.07 203.08,673.07 204.89,673.06 206.71,673.05 208.53,673.05 210.34,673.04 212.16,673.04 213.97,673.03 215.79,673.03 217.61,673.02 219.42,673.02 221.24,673.02 223.06,673.02 224.87,673.02 226.69,673.01 228.5,673.01 230.32,673.01 232.14,673.01 233.95,673.01 235.77,673.01 237.59,673.01 239.4,673.01 241.22,673.01 243.03,673 244.85,673 246.67,673 248.48,673 250.3,673 252.12,673 253.93,673 255.75,673 257.56,673 259.38,673 261.2,673 263.01,673 264.83,673 266.64,673 268.46,673 270.28,673 272.09,673 273.91,673 275.73,673 277.54,673 279.36,673 281.18,673 282.99,673 284.81,673 286.62,673 288.44,673 290.26,673 292.07,673 293.89,673 295.7,673 297.52,673 299.34,673 301.15,673 302.97,673 304.79,673 306.6,673 308.42,673 310.24,673 312.05,673 313.87,673 315.68,673 317.5,673" stroke="#3a89db"/>
<polyline class="cv" points="26.9,797.94 28.72,797.92 30.53,797.9 32.35,797.87 34.17,797.84 35.98,797.81 37.8,797.77 39.61,797.72 41.43,797.68 43.25,797.62 45.06,797.56 46.88,797.49 48.7,797.41 50.51,797.32 52.33,797.22 54.14,797.11 55.96,796.98 57.78,796.83 59.59,796.67 61.41,796.48 63.23,796.28 65.04,796.04 66.86,795.78 68.67,795.48 70.49,795.15 72.31,794.78 74.12,794.36 75.94,793.89 77.75,793.36 79.57,792.77 81.39,792.1 83.2,791.37 85.02,790.54 86.84,789.62 88.65,788.6 90.47,787.47 92.28,786.21 94.1,784.83 95.92,783.31 97.73,781.63 99.55,779.8 101.37,777.8 103.18,775.63 105,773.28 106.81,770.76 108.63,768.05 110.45,765.16 112.26,762.11 114.08,758.89 115.9,755.52 117.71,752.01 119.53,748.39 121.34,744.68 123.16,740.9 124.98,737.08 126.79,733.25 128.61,729.44 130.43,725.67 132.24,721.98 134.06,718.38 135.88,714.9 137.69,711.56 139.51,708.37 141.32,705.35 143.14,702.5 144.96,699.82 146.77,697.33 148.59,695.02 150.41,692.89 152.22,690.92 154.04,689.12 155.85,687.48 157.67,685.98 159.49,684.62 161.3,683.4 163.12,682.29 164.94,681.29 166.75,680.39 168.57,679.58 170.38,678.86 172.2,678.21 174.02,677.63 175.83,677.12 177.65,676.65 179.47,676.24 181.28,675.88 183.1,675.55 184.91,675.26 186.73,675.01 188.55,674.78 190.36,674.58 192.18,674.4 194,674.24 195.81,674.1 197.63,673.97 199.44,673.86 201.26,673.76 203.08,673.67 204.89,673.6 206.71,673.53 208.53,673.47 210.34,673.41 212.16,673.37 213.97,673.32 215.79,673.29 217.61,673.25 219.42,673.22 221.24,673.2 223.06,673.18 224.87,673.16 226.69,673.14 228.5,673.12 230.32,673.11 232.14,673.1 233.95,673.08 235.77,673.07 237.59,673.07 239.4,673.06 241.22,673.05 243.03,673.05 244.85,673.04 246.67,673.04 248.48,673.03 250.3,673.03 252.12,673.02 253.93,673.02 255.75,673.02 257.56,673.02 259.38,673.02 261.2,673.01 263.01,673.01 264.83,673.01 266.64,673.01 268.46,673.01 270.28,673.01 272.09,673.01 273.91,673.01 275.73,673.01 277.54,673 279.36,673 281.18,673 282.99,673 284.81,673 286.62,673 288.44,673 290.26,673 292.07,673 293.89,673 295.7,673 297.52,673 299.34,673 301.15,673 302.97,673 304.79,673 306.6,673 308.42,673 310.24,673 312.05,673 313.87,673 315.68,673 317.5,673" stroke="#bb386e"/>
<polyline class="cv" points="26.9,798.09 28.72,798.09 30.53,798.08 32.35,798.08 34.17,798.08 35.98,798.08 37.8,798.07 39.61,798.07 41.43,798.07 43.25,798.06 45.06,798.06 46.88,798.05 48.7,798.05 50.51,798.04 52.33,798.03 54.14,798.02 55.96,798.01 57.78,798 59.59,797.99 61.41,797.97 63.23,797.96 65.04,797.94 66.86,797.92 68.67,797.89 70.49,797.87 72.31,797.84 74.12,797.8 75.94,797.77 77.75,797.72 79.57,797.67 81.39,797.62 83.2,797.55 85.02,797.48 86.84,797.4 88.65,797.31 90.47,797.21 92.28,797.1 94.1,796.97 95.92,796.82 97.73,796.66 99.55,796.47 101.37,796.26 103.18,796.03 105,795.76 106.81,795.47 108.63,795.13 110.45,794.75 112.26,794.33 114.08,793.86 115.9,793.32 117.71,792.73 119.53,792.06 121.34,791.32 123.16,790.49 124.98,789.56 126.79,788.54 128.61,787.4 130.43,786.14 132.24,784.74 134.06,783.21 135.88,781.53 137.69,779.68 139.51,777.68 141.32,775.5 143.14,773.14 144.96,770.6 146.77,767.88 148.59,764.99 150.41,761.92 152.22,758.69 154.04,755.31 155.85,751.8 157.67,748.17 159.49,744.45 161.3,740.67 163.12,736.85 164.94,733.02 166.75,729.21 168.57,725.45 170.38,721.76 172.2,718.17 174.02,714.69 175.83,711.36 177.65,708.18 179.47,705.17 181.28,702.33 183.1,699.67 184.91,697.19 186.73,694.89 188.55,692.76 190.36,690.81 192.18,689.02 194,687.38 195.81,685.9 197.63,684.55 199.44,683.33 201.26,682.22 203.08,681.23 204.89,680.34 206.71,679.53 208.53,678.82 210.34,678.17 212.16,677.6 213.97,677.09 215.79,676.63 217.61,676.22 219.42,675.86 221.24,675.54 223.06,675.25 224.87,674.99 226.69,674.77 228.5,674.57 230.32,674.39 232.14,674.23 233.95,674.09 235.77,673.96 237.59,673.85 239.4,673.76 241.22,673.67 243.03,673.59 244.85,673.52 246.67,673.46 248.48,673.41 250.3,673.36 252.12,673.32 253.93,673.28 255.75,673.25 257.56,673.22 259.38,673.2 261.2,673.17 263.01,673.15 264.83,673.14 266.64,673.12 268.46,673.11 270.28,673.09 272.09,673.08 273.91,673.07 275.73,673.07 277.54,673.06 279.36,673.05 281.18,673.05 282.99,673.04 284.81,673.04 286.62,673.03 288.44,673.03 290.26,673.02 292.07,673.02 293.89,673.02 295.7,673.02 297.52,673.02 299.34,673.01 301.15,673.01 302.97,673.01 304.79,673.01 306.6,673.01 308.42,673.01 310.24,673.01 312.05,673.01 313.87,673.01 315.68,673 317.5,673" stroke="#2bb684"/>
<polyline class="cv" points="26.9,798.1 28.72,798.1 30.53,798.1 32.35,798.1 34.17,798.1 35.98,798.1 37.8,798.1 39.61,798.1 41.43,798.1 43.25,798.1 45.06,798.1 46.88,798.1 48.7,798.1 50.51,798.1 52.33,798.1 54.14,798.1 55.96,798.1 57.78,798.1 59.59,798.1 61.41,798.1 63.23,798.1 65.04,798.1 66.86,798.09 68.67,798.09 70.49,798.09 72.31,798.09 74.12,798.09 75.94,798.09 77.75,798.09 79.57,798.09 81.39,798.09 83.2,798.08 85.02,798.08 86.84,798.08 88.65,798.08 90.47,798.07 92.28,798.07 94.1,798.07 95.92,798.06 97.73,798.06 99.55,798.05 101.37,798.04 103.18,798.04 105,798.03 106.81,798.02 108.63,798.01 110.45,797.99 112.26,797.98 114.08,797.97 115.9,797.95 117.71,797.93 119.53,797.91 121.34,797.88 123.16,797.85 124.98,797.82 126.79,797.78 128.61,797.74 130.43,797.7 132.24,797.64 134.06,797.58 135.88,797.52 137.69,797.44 139.51,797.36 141.32,797.26 143.14,797.15 144.96,797.03 146.77,796.89 148.59,796.74 150.41,796.56 152.22,796.36 154.04,796.14 155.85,795.89 157.67,795.61 159.49,795.29 161.3,794.93 163.12,794.53 164.94,794.08 166.75,793.58 168.57,793.01 170.38,792.38 172.2,791.67 174.02,790.88 175.83,790 177.65,789.02 179.47,787.94 181.28,786.73 183.1,785.4 184.91,783.93 186.73,782.32 188.55,780.55 190.36,778.62 192.18,776.52 194,774.24 195.81,771.79 197.63,769.15 199.44,766.34 201.26,763.35 203.08,760.19 204.89,756.88 206.71,753.43 208.53,749.85 210.34,746.17 212.16,742.42 213.97,738.61 215.79,734.78 217.61,730.96 219.42,727.17 221.24,723.44 223.06,719.8 224.87,716.28 226.69,712.88 228.5,709.62 230.32,706.53 232.14,703.61 233.95,700.87 235.77,698.31 237.59,695.92 239.4,693.72 241.22,691.69 243.03,689.82 244.85,688.12 246.67,686.56 248.48,685.15 250.3,683.87 252.12,682.72 253.93,681.67 255.75,680.74 257.56,679.89 259.38,679.14 261.2,678.46 263.01,677.86 264.83,677.31 266.64,676.83 268.46,676.4 270.28,676.02 272.09,675.68 273.91,675.38 275.73,675.11 277.54,674.87 279.36,674.65 281.18,674.47 282.99,674.3 284.81,674.15 286.62,674.02 288.44,673.9 290.26,673.8 292.07,673.71 293.89,673.63 295.7,673.55 297.52,673.49 299.34,673.43 301.15,673.38 302.97,673.34 304.79,673.3 306.6,673.27 308.42,673.24 310.24,673.21 312.05,673.18 313.87,673.16 315.68,673.14 317.5,673.13" stroke="#f1d938"/>
<text class="tt" x="172.05" y="665.25" font-size="10.01" textLength="146.7" lengthAdjust="spacingAndGlyphs">Item Characteristic Curves -Item 7</text>
<text class="sm" text-anchor="end" x="18.6" y="800.95" font-size="6.85">0</text>
<text class="sm" text-anchor="end" x="18.6" y="738.4" font-size="6.85">.5</text>
<text class="sm" text-anchor="end" x="18.6" y="675.85" font-size="6.85">1</text>
<text class="sm" text-anchor="middle" x="26.9" y="813.05" font-size="6.85">-4</text>
<text class="sm" text-anchor="middle" x="91.2" y="813.05" font-size="6.85">-2.23</text>
<text class="sm" text-anchor="middle" x="125.7" y="813.05" font-size="6.85">-1.28</text>
<text class="sm" text-anchor="middle" x="163.74" y="813.05" font-size="6.85">-.233</text>
<text class="sm" text-anchor="middle" x="215.43" y="813.05" font-size="6.85">1.19</text>
<text class="sm" text-anchor="middle" x="317.5" y="813.05" font-size="6.85">4</text>
<text class="sm" text-anchor="middle" x="172.2" y="822.05" font-size="6.85">Theta</text>
<text class="sm" text-anchor="middle" transform="translate(9.35 735.55) rotate(-90)" font-size="6.85">Probability</text>
<line x1="27.6" x2="40.4" y1="833.5" y2="833.5" stroke="#4a92de" stroke-width="1.05" stroke-opacity=".9"/>
<text class="sm" x="44.81" y="836.04" font-size="7.1" textLength="53.32" lengthAdjust="spacingAndGlyphs">Pr(swemwbs7≥2)</text>
<line x1="102.23" x2="115.03" y1="833.5" y2="833.5" stroke="#c0487a" stroke-width="1.05" stroke-opacity=".9"/>
<text class="sm" x="119.43" y="836.04" font-size="7.1" textLength="53.32" lengthAdjust="spacingAndGlyphs">Pr(swemwbs7≥3)</text>
<line x1="176.85" x2="189.65" y1="833.5" y2="833.5" stroke="#3cbc8e" stroke-width="1.05" stroke-opacity=".9"/>
<text class="sm" x="194.06" y="836.04" font-size="7.1" textLength="53.32" lengthAdjust="spacingAndGlyphs">Pr(swemwbs7≥4)</text>
<line x1="251.48" x2="264.28" y1="833.5" y2="833.5" stroke="#f2dc48" stroke-width="1.05" stroke-opacity=".9"/>
<text class="sm" x="268.68" y="836.04" font-size="7.1" textLength="53.32" lengthAdjust="spacingAndGlyphs">Pr(swemwbs7=5)</text>
</g>
</svg>
</body></html>
